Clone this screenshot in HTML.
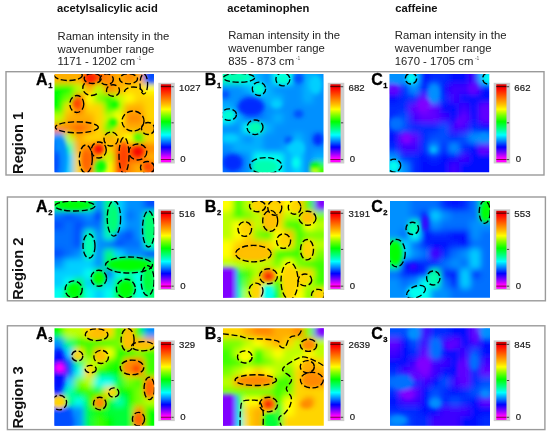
<!DOCTYPE html>
<html><head><meta charset="utf-8"><title>Raman maps</title>
<style>
html,body{margin:0;padding:0;background:#fff}
body{width:550px;height:435px;overflow:hidden}
svg{display:block}
text{font-family:"Liberation Sans",sans-serif;fill:#1a1a1a}
.t{font-size:11.2px;font-weight:bold;fill:#111}
.h{font-size:11.3px;fill:#222}
.u{font-size:5px;fill:#666}
.n{font-size:9.6px;letter-spacing:0.15px;fill:#1a1a1a;stroke:#1a1a1a;stroke-width:0.2px}
.l{font-size:16px;font-weight:bold;fill:#000;stroke:#000;stroke-width:0.3px}
.s{font-size:7.6px}
.r{font-size:15.2px;font-weight:bold;fill:#111}
</style></head><body>
<svg width="550" height="435" viewBox="0 0 550 435">
<defs><filter id="bl" x="-5%" y="-5%" width="110%" height="110%"><feGaussianBlur stdDeviation="0.33"/></filter><filter id="bs" x="-50%" y="-50%" width="200%" height="200%"><feGaussianBlur stdDeviation="0.2"/></filter><linearGradient id="cb" x1="0" y1="0" x2="0" y2="1"><stop offset="0.000" stop-color="#d00000"/><stop offset="0.050" stop-color="#ff0000"/><stop offset="0.120" stop-color="#ff4000"/><stop offset="0.190" stop-color="#ff8000"/><stop offset="0.260" stop-color="#ffc000"/><stop offset="0.320" stop-color="#ffff00"/><stop offset="0.395" stop-color="#80ff00"/><stop offset="0.480" stop-color="#00ff00"/><stop offset="0.570" stop-color="#00ff80"/><stop offset="0.650" stop-color="#00ffff"/><stop offset="0.730" stop-color="#0080ff"/><stop offset="0.805" stop-color="#0000ff"/><stop offset="0.880" stop-color="#8000ff"/><stop offset="0.950" stop-color="#ff00ff"/><stop offset="1.000" stop-color="#ff00ff"/></linearGradient></defs><rect x="6" y="71.7" width="538" height="103.3" fill="#fff" stroke="#9a9a9a" stroke-width="1.4"/><rect x="7.4" y="197" width="538" height="103.8" fill="#fff" stroke="#9a9a9a" stroke-width="1.4"/><rect x="7.4" y="325.8" width="537.5" height="103.8" fill="#fff" stroke="#9a9a9a" stroke-width="1.4"/><svg x="54.5" y="74" width="99.5" height="98.3" viewBox="0 0 10 10" preserveAspectRatio="none"><g filter="url(#bl)" shape-rendering="crispEdges"><rect x="-2" y="-2" width="1.02" height="1.02" fill="#ffae00"/><rect x="-1" y="-2" width="1.02" height="1.02" fill="#ffae00"/><rect x="0" y="-2" width="1.02" height="1.02" fill="#ffae00"/><rect x="1" y="-2" width="1.02" height="1.02" fill="#ffae00"/><rect x="2" y="-2" width="1.02" height="1.02" fill="#ffae00"/><rect x="3" y="-2" width="1.02" height="1.02" fill="#ff1b00"/><rect x="4" y="-2" width="1.02" height="1.02" fill="#ff6500"/><rect x="5" y="-2" width="1.02" height="1.02" fill="#ff8900"/><rect x="6" y="-2" width="1.02" height="1.02" fill="#ffae00"/><rect x="7" y="-2" width="1.02" height="1.02" fill="#ff8900"/><rect x="8" y="-2" width="1.02" height="1.02" fill="#ffae00"/><rect x="9" y="-2" width="1.02" height="1.02" fill="#004dff"/><rect x="10" y="-2" width="1.02" height="1.02" fill="#004dff"/><rect x="11" y="-2" width="1.02" height="1.02" fill="#004dff"/><rect x="-2" y="-1" width="1.02" height="1.02" fill="#ffae00"/><rect x="-1" y="-1" width="1.02" height="1.02" fill="#ffae00"/><rect x="0" y="-1" width="1.02" height="1.02" fill="#ffae00"/><rect x="1" y="-1" width="1.02" height="1.02" fill="#ffae00"/><rect x="2" y="-1" width="1.02" height="1.02" fill="#ffae00"/><rect x="3" y="-1" width="1.02" height="1.02" fill="#ff1b00"/><rect x="4" y="-1" width="1.02" height="1.02" fill="#ff6500"/><rect x="5" y="-1" width="1.02" height="1.02" fill="#ff8900"/><rect x="6" y="-1" width="1.02" height="1.02" fill="#ffae00"/><rect x="7" y="-1" width="1.02" height="1.02" fill="#ff8900"/><rect x="8" y="-1" width="1.02" height="1.02" fill="#ffae00"/><rect x="9" y="-1" width="1.02" height="1.02" fill="#004dff"/><rect x="10" y="-1" width="1.02" height="1.02" fill="#004dff"/><rect x="11" y="-1" width="1.02" height="1.02" fill="#004dff"/><rect x="-2" y="0" width="1.02" height="1.02" fill="#ffae00"/><rect x="-1" y="0" width="1.02" height="1.02" fill="#ffae00"/><rect x="0" y="0" width="1.02" height="1.02" fill="#ffae00"/><rect x="1" y="0" width="1.02" height="1.02" fill="#ffae00"/><rect x="2" y="0" width="1.02" height="1.02" fill="#ffae00"/><rect x="3" y="0" width="1.02" height="1.02" fill="#ff1b00"/><rect x="4" y="0" width="1.02" height="1.02" fill="#ff6500"/><rect x="5" y="0" width="1.02" height="1.02" fill="#ff8900"/><rect x="6" y="0" width="1.02" height="1.02" fill="#ffae00"/><rect x="7" y="0" width="1.02" height="1.02" fill="#ff8900"/><rect x="8" y="0" width="1.02" height="1.02" fill="#ffae00"/><rect x="9" y="0" width="1.02" height="1.02" fill="#004dff"/><rect x="10" y="0" width="1.02" height="1.02" fill="#004dff"/><rect x="11" y="0" width="1.02" height="1.02" fill="#004dff"/><rect x="-2" y="1" width="1.02" height="1.02" fill="#00ff00"/><rect x="-1" y="1" width="1.02" height="1.02" fill="#00ff00"/><rect x="0" y="1" width="1.02" height="1.02" fill="#00ff00"/><rect x="1" y="1" width="1.02" height="1.02" fill="#00ff00"/><rect x="2" y="1" width="1.02" height="1.02" fill="#bbff00"/><rect x="3" y="1" width="1.02" height="1.02" fill="#ffae00"/><rect x="4" y="1" width="1.02" height="1.02" fill="#bbff00"/><rect x="5" y="1" width="1.02" height="1.02" fill="#ff8900"/><rect x="6" y="1" width="1.02" height="1.02" fill="#ffae00"/><rect x="7" y="1" width="1.02" height="1.02" fill="#ffd500"/><rect x="8" y="1" width="1.02" height="1.02" fill="#ffd500"/><rect x="9" y="1" width="1.02" height="1.02" fill="#ffff00"/><rect x="10" y="1" width="1.02" height="1.02" fill="#ffff00"/><rect x="11" y="1" width="1.02" height="1.02" fill="#ffff00"/><rect x="-2" y="2" width="1.02" height="1.02" fill="#00ff00"/><rect x="-1" y="2" width="1.02" height="1.02" fill="#00ff00"/><rect x="0" y="2" width="1.02" height="1.02" fill="#00ff00"/><rect x="1" y="2" width="1.02" height="1.02" fill="#78ff00"/><rect x="2" y="2" width="1.02" height="1.02" fill="#ff4000"/><rect x="3" y="2" width="1.02" height="1.02" fill="#ffff00"/><rect x="4" y="2" width="1.02" height="1.02" fill="#78ff00"/><rect x="5" y="2" width="1.02" height="1.02" fill="#00ff00"/><rect x="6" y="2" width="1.02" height="1.02" fill="#bbff00"/><rect x="7" y="2" width="1.02" height="1.02" fill="#ffff00"/><rect x="8" y="2" width="1.02" height="1.02" fill="#ffd500"/><rect x="9" y="2" width="1.02" height="1.02" fill="#ffd500"/><rect x="10" y="2" width="1.02" height="1.02" fill="#ffd500"/><rect x="11" y="2" width="1.02" height="1.02" fill="#ffd500"/><rect x="-2" y="3" width="1.02" height="1.02" fill="#00ff00"/><rect x="-1" y="3" width="1.02" height="1.02" fill="#00ff00"/><rect x="0" y="3" width="1.02" height="1.02" fill="#00ff00"/><rect x="1" y="3" width="1.02" height="1.02" fill="#ffd500"/><rect x="2" y="3" width="1.02" height="1.02" fill="#ff6500"/><rect x="3" y="3" width="1.02" height="1.02" fill="#ffd500"/><rect x="4" y="3" width="1.02" height="1.02" fill="#ffd500"/><rect x="5" y="3" width="1.02" height="1.02" fill="#3cff00"/><rect x="6" y="3" width="1.02" height="1.02" fill="#bbff00"/><rect x="7" y="3" width="1.02" height="1.02" fill="#ffae00"/><rect x="8" y="3" width="1.02" height="1.02" fill="#ffae00"/><rect x="9" y="3" width="1.02" height="1.02" fill="#ffd500"/><rect x="10" y="3" width="1.02" height="1.02" fill="#ffd500"/><rect x="11" y="3" width="1.02" height="1.02" fill="#ffd500"/><rect x="-2" y="4" width="1.02" height="1.02" fill="#bbff00"/><rect x="-1" y="4" width="1.02" height="1.02" fill="#bbff00"/><rect x="0" y="4" width="1.02" height="1.02" fill="#bbff00"/><rect x="1" y="4" width="1.02" height="1.02" fill="#ffae00"/><rect x="2" y="4" width="1.02" height="1.02" fill="#ffae00"/><rect x="3" y="4" width="1.02" height="1.02" fill="#ffae00"/><rect x="4" y="4" width="1.02" height="1.02" fill="#ffd500"/><rect x="5" y="4" width="1.02" height="1.02" fill="#bbff00"/><rect x="6" y="4" width="1.02" height="1.02" fill="#ffff00"/><rect x="7" y="4" width="1.02" height="1.02" fill="#ff8900"/><rect x="8" y="4" width="1.02" height="1.02" fill="#ff8900"/><rect x="9" y="4" width="1.02" height="1.02" fill="#ffd500"/><rect x="10" y="4" width="1.02" height="1.02" fill="#ffd500"/><rect x="11" y="4" width="1.02" height="1.02" fill="#ffd500"/><rect x="-2" y="5" width="1.02" height="1.02" fill="#ff8900"/><rect x="-1" y="5" width="1.02" height="1.02" fill="#ff8900"/><rect x="0" y="5" width="1.02" height="1.02" fill="#ff8900"/><rect x="1" y="5" width="1.02" height="1.02" fill="#ff8900"/><rect x="2" y="5" width="1.02" height="1.02" fill="#ff6500"/><rect x="3" y="5" width="1.02" height="1.02" fill="#ff8900"/><rect x="4" y="5" width="1.02" height="1.02" fill="#ffd500"/><rect x="5" y="5" width="1.02" height="1.02" fill="#3cff00"/><rect x="6" y="5" width="1.02" height="1.02" fill="#ffd500"/><rect x="7" y="5" width="1.02" height="1.02" fill="#ffae00"/><rect x="8" y="5" width="1.02" height="1.02" fill="#ffae00"/><rect x="9" y="5" width="1.02" height="1.02" fill="#ffae00"/><rect x="10" y="5" width="1.02" height="1.02" fill="#ffae00"/><rect x="11" y="5" width="1.02" height="1.02" fill="#ffae00"/><rect x="-2" y="6" width="1.02" height="1.02" fill="#0090ff"/><rect x="-1" y="6" width="1.02" height="1.02" fill="#0090ff"/><rect x="0" y="6" width="1.02" height="1.02" fill="#0090ff"/><rect x="1" y="6" width="1.02" height="1.02" fill="#bbff00"/><rect x="2" y="6" width="1.02" height="1.02" fill="#ffae00"/><rect x="3" y="6" width="1.02" height="1.02" fill="#ffd500"/><rect x="4" y="6" width="1.02" height="1.02" fill="#ffd500"/><rect x="5" y="6" width="1.02" height="1.02" fill="#ffae00"/><rect x="6" y="6" width="1.02" height="1.02" fill="#ffd500"/><rect x="7" y="6" width="1.02" height="1.02" fill="#ffff00"/><rect x="8" y="6" width="1.02" height="1.02" fill="#3cff00"/><rect x="9" y="6" width="1.02" height="1.02" fill="#ffd500"/><rect x="10" y="6" width="1.02" height="1.02" fill="#ffd500"/><rect x="11" y="6" width="1.02" height="1.02" fill="#ffd500"/><rect x="-2" y="7" width="1.02" height="1.02" fill="#004dff"/><rect x="-1" y="7" width="1.02" height="1.02" fill="#004dff"/><rect x="0" y="7" width="1.02" height="1.02" fill="#004dff"/><rect x="1" y="7" width="1.02" height="1.02" fill="#00ffb0"/><rect x="2" y="7" width="1.02" height="1.02" fill="#ffae00"/><rect x="3" y="7" width="1.02" height="1.02" fill="#ff8900"/><rect x="4" y="7" width="1.02" height="1.02" fill="#ff1b00"/><rect x="5" y="7" width="1.02" height="1.02" fill="#ffd500"/><rect x="6" y="7" width="1.02" height="1.02" fill="#ff6500"/><rect x="7" y="7" width="1.02" height="1.02" fill="#ff6500"/><rect x="8" y="7" width="1.02" height="1.02" fill="#ff1b00"/><rect x="9" y="7" width="1.02" height="1.02" fill="#ff8900"/><rect x="10" y="7" width="1.02" height="1.02" fill="#ff8900"/><rect x="11" y="7" width="1.02" height="1.02" fill="#ff8900"/><rect x="-2" y="8" width="1.02" height="1.02" fill="#004dff"/><rect x="-1" y="8" width="1.02" height="1.02" fill="#004dff"/><rect x="0" y="8" width="1.02" height="1.02" fill="#004dff"/><rect x="1" y="8" width="1.02" height="1.02" fill="#00cfff"/><rect x="2" y="8" width="1.02" height="1.02" fill="#ffd500"/><rect x="3" y="8" width="1.02" height="1.02" fill="#ff6500"/><rect x="4" y="8" width="1.02" height="1.02" fill="#ffae00"/><rect x="5" y="8" width="1.02" height="1.02" fill="#bbff00"/><rect x="6" y="8" width="1.02" height="1.02" fill="#ff4000"/><rect x="7" y="8" width="1.02" height="1.02" fill="#ff6500"/><rect x="8" y="8" width="1.02" height="1.02" fill="#ff4000"/><rect x="9" y="8" width="1.02" height="1.02" fill="#ffae00"/><rect x="10" y="8" width="1.02" height="1.02" fill="#ffae00"/><rect x="11" y="8" width="1.02" height="1.02" fill="#ffae00"/><rect x="-2" y="9" width="1.02" height="1.02" fill="#004dff"/><rect x="-1" y="9" width="1.02" height="1.02" fill="#004dff"/><rect x="0" y="9" width="1.02" height="1.02" fill="#004dff"/><rect x="1" y="9" width="1.02" height="1.02" fill="#00cfff"/><rect x="2" y="9" width="1.02" height="1.02" fill="#ffd500"/><rect x="3" y="9" width="1.02" height="1.02" fill="#ff6500"/><rect x="4" y="9" width="1.02" height="1.02" fill="#00ff39"/><rect x="5" y="9" width="1.02" height="1.02" fill="#ffff00"/><rect x="6" y="9" width="1.02" height="1.02" fill="#ff4000"/><rect x="7" y="9" width="1.02" height="1.02" fill="#ff8900"/><rect x="8" y="9" width="1.02" height="1.02" fill="#ffae00"/><rect x="9" y="9" width="1.02" height="1.02" fill="#ff6500"/><rect x="10" y="9" width="1.02" height="1.02" fill="#ff6500"/><rect x="11" y="9" width="1.02" height="1.02" fill="#ff6500"/><rect x="-2" y="10" width="1.02" height="1.02" fill="#004dff"/><rect x="-1" y="10" width="1.02" height="1.02" fill="#004dff"/><rect x="0" y="10" width="1.02" height="1.02" fill="#004dff"/><rect x="1" y="10" width="1.02" height="1.02" fill="#00cfff"/><rect x="2" y="10" width="1.02" height="1.02" fill="#ffd500"/><rect x="3" y="10" width="1.02" height="1.02" fill="#ff6500"/><rect x="4" y="10" width="1.02" height="1.02" fill="#00ff39"/><rect x="5" y="10" width="1.02" height="1.02" fill="#ffff00"/><rect x="6" y="10" width="1.02" height="1.02" fill="#ff4000"/><rect x="7" y="10" width="1.02" height="1.02" fill="#ff8900"/><rect x="8" y="10" width="1.02" height="1.02" fill="#ffae00"/><rect x="9" y="10" width="1.02" height="1.02" fill="#ff6500"/><rect x="10" y="10" width="1.02" height="1.02" fill="#ff6500"/><rect x="11" y="10" width="1.02" height="1.02" fill="#ff6500"/><rect x="-2" y="11" width="1.02" height="1.02" fill="#004dff"/><rect x="-1" y="11" width="1.02" height="1.02" fill="#004dff"/><rect x="0" y="11" width="1.02" height="1.02" fill="#004dff"/><rect x="1" y="11" width="1.02" height="1.02" fill="#00cfff"/><rect x="2" y="11" width="1.02" height="1.02" fill="#ffd500"/><rect x="3" y="11" width="1.02" height="1.02" fill="#ff6500"/><rect x="4" y="11" width="1.02" height="1.02" fill="#00ff39"/><rect x="5" y="11" width="1.02" height="1.02" fill="#ffff00"/><rect x="6" y="11" width="1.02" height="1.02" fill="#ff4000"/><rect x="7" y="11" width="1.02" height="1.02" fill="#ff8900"/><rect x="8" y="11" width="1.02" height="1.02" fill="#ffae00"/><rect x="9" y="11" width="1.02" height="1.02" fill="#ff6500"/><rect x="10" y="11" width="1.02" height="1.02" fill="#ff6500"/><rect x="11" y="11" width="1.02" height="1.02" fill="#ff6500"/></g><g filter="url(#bs)"><ellipse cx="4.452" cy="7.660" rx="0.402" ry="0.407" fill="#f60000"/><ellipse cx="8.372" cy="7.904" rx="0.503" ry="0.407" fill="#f60000"/><ellipse cx="2.241" cy="3.021" rx="0.402" ry="0.458" fill="#ff4000"/><ellipse cx="3.638" cy="0.458" rx="0.603" ry="0.356" fill="#ff1b00"/><ellipse cx="9.357" cy="9.390" rx="0.402" ry="0.407" fill="#ff4000"/><ellipse cx="0.553" cy="8.342" rx="0.653" ry="1.933" fill="#0090ff"/><ellipse cx="0.251" cy="8.952" rx="0.302" ry="1.221" fill="#004dff"/><ellipse cx="3.146" cy="8.749" rx="0.452" ry="1.119" fill="#ff6500"/><ellipse cx="6.985" cy="8.342" rx="0.352" ry="1.526" fill="#ff4000"/><ellipse cx="9.749" cy="0.336" rx="0.352" ry="0.509" fill="#004dff"/><ellipse cx="5.879" cy="4.924" rx="0.402" ry="0.407" fill="#00ff00"/><ellipse cx="4.693" cy="9.390" rx="0.503" ry="0.610" fill="#00ff00"/><ellipse cx="8.372" cy="6.409" rx="0.302" ry="0.305" fill="#3cff00"/><ellipse cx="6.010" cy="3.103" rx="0.452" ry="0.407" fill="#00ff00"/></g></svg><svg x="54.5" y="74" width="99.5" height="98.3" viewBox="54.5 74 99.5 98.3"><g fill="none" stroke="#000" stroke-width="1.35" stroke-dasharray="6 2.6"><ellipse cx="68.3" cy="75.3" rx="14" ry="5.2"/><ellipse cx="92.7" cy="78.5" rx="8.5" ry="5"/><ellipse cx="106.6" cy="79.3" rx="6.7" ry="5.4"/><ellipse cx="128.5" cy="78.8" rx="9" ry="5"/><ellipse cx="143.8" cy="84" rx="3.8" ry="10"/><ellipse cx="113" cy="90.5" rx="6.5" ry="5.8"/><ellipse cx="76.8" cy="104" rx="7" ry="8.5"/><ellipse cx="76.8" cy="127.3" rx="21.5" ry="5.5"/><ellipse cx="133" cy="121" rx="11" ry="10"/><ellipse cx="148" cy="128.5" rx="6.5" ry="6"/><ellipse cx="111" cy="139" rx="7" ry="7"/><ellipse cx="98.8" cy="150" rx="7.5" ry="8"/><ellipse cx="85.8" cy="159" rx="6.5" ry="14"/><ellipse cx="124" cy="155.4" rx="5" ry="18"/><ellipse cx="137.8" cy="152" rx="9" ry="8"/><ellipse cx="147.5" cy="167.5" rx="7" ry="6"/><path d="M84.6 83.2A7.5 6.5 0 0 0 98.5 92.5"/><path d="M124.5 92A9 5 0 0 1 142.5 92"/></g></svg><svg x="222.7" y="74" width="100.8" height="98.3" viewBox="0 0 10 10" preserveAspectRatio="none"><g filter="url(#bl)" shape-rendering="crispEdges"><rect x="-2" y="-2" width="1.02" height="1.02" fill="#00ffb0"/><rect x="-1" y="-2" width="1.02" height="1.02" fill="#00ffb0"/><rect x="0" y="-2" width="1.02" height="1.02" fill="#00ffb0"/><rect x="1" y="-2" width="1.02" height="1.02" fill="#00ffb0"/><rect x="2" y="-2" width="1.02" height="1.02" fill="#00ffef"/><rect x="3" y="-2" width="1.02" height="1.02" fill="#00b0ff"/><rect x="4" y="-2" width="1.02" height="1.02" fill="#0090ff"/><rect x="5" y="-2" width="1.02" height="1.02" fill="#00ffef"/><rect x="6" y="-2" width="1.02" height="1.02" fill="#00ffef"/><rect x="7" y="-2" width="1.02" height="1.02" fill="#006fff"/><rect x="8" y="-2" width="1.02" height="1.02" fill="#00b0ff"/><rect x="9" y="-2" width="1.02" height="1.02" fill="#0090ff"/><rect x="10" y="-2" width="1.02" height="1.02" fill="#0090ff"/><rect x="11" y="-2" width="1.02" height="1.02" fill="#0090ff"/><rect x="-2" y="-1" width="1.02" height="1.02" fill="#00ffb0"/><rect x="-1" y="-1" width="1.02" height="1.02" fill="#00ffb0"/><rect x="0" y="-1" width="1.02" height="1.02" fill="#00ffb0"/><rect x="1" y="-1" width="1.02" height="1.02" fill="#00ffb0"/><rect x="2" y="-1" width="1.02" height="1.02" fill="#00ffef"/><rect x="3" y="-1" width="1.02" height="1.02" fill="#00b0ff"/><rect x="4" y="-1" width="1.02" height="1.02" fill="#0090ff"/><rect x="5" y="-1" width="1.02" height="1.02" fill="#00ffef"/><rect x="6" y="-1" width="1.02" height="1.02" fill="#00ffef"/><rect x="7" y="-1" width="1.02" height="1.02" fill="#006fff"/><rect x="8" y="-1" width="1.02" height="1.02" fill="#00b0ff"/><rect x="9" y="-1" width="1.02" height="1.02" fill="#0090ff"/><rect x="10" y="-1" width="1.02" height="1.02" fill="#0090ff"/><rect x="11" y="-1" width="1.02" height="1.02" fill="#0090ff"/><rect x="-2" y="0" width="1.02" height="1.02" fill="#00ffb0"/><rect x="-1" y="0" width="1.02" height="1.02" fill="#00ffb0"/><rect x="0" y="0" width="1.02" height="1.02" fill="#00ffb0"/><rect x="1" y="0" width="1.02" height="1.02" fill="#00ffb0"/><rect x="2" y="0" width="1.02" height="1.02" fill="#00ffef"/><rect x="3" y="0" width="1.02" height="1.02" fill="#00b0ff"/><rect x="4" y="0" width="1.02" height="1.02" fill="#0090ff"/><rect x="5" y="0" width="1.02" height="1.02" fill="#00ffef"/><rect x="6" y="0" width="1.02" height="1.02" fill="#00ffef"/><rect x="7" y="0" width="1.02" height="1.02" fill="#006fff"/><rect x="8" y="0" width="1.02" height="1.02" fill="#00b0ff"/><rect x="9" y="0" width="1.02" height="1.02" fill="#0090ff"/><rect x="10" y="0" width="1.02" height="1.02" fill="#0090ff"/><rect x="11" y="0" width="1.02" height="1.02" fill="#0090ff"/><rect x="-2" y="1" width="1.02" height="1.02" fill="#0090ff"/><rect x="-1" y="1" width="1.02" height="1.02" fill="#0090ff"/><rect x="0" y="1" width="1.02" height="1.02" fill="#0090ff"/><rect x="1" y="1" width="1.02" height="1.02" fill="#0090ff"/><rect x="2" y="1" width="1.02" height="1.02" fill="#00b0ff"/><rect x="3" y="1" width="1.02" height="1.02" fill="#00ffef"/><rect x="4" y="1" width="1.02" height="1.02" fill="#00b0ff"/><rect x="5" y="1" width="1.02" height="1.02" fill="#0090ff"/><rect x="6" y="1" width="1.02" height="1.02" fill="#0090ff"/><rect x="7" y="1" width="1.02" height="1.02" fill="#0090ff"/><rect x="8" y="1" width="1.02" height="1.02" fill="#00b0ff"/><rect x="9" y="1" width="1.02" height="1.02" fill="#0090ff"/><rect x="10" y="1" width="1.02" height="1.02" fill="#0090ff"/><rect x="11" y="1" width="1.02" height="1.02" fill="#0090ff"/><rect x="-2" y="2" width="1.02" height="1.02" fill="#0090ff"/><rect x="-1" y="2" width="1.02" height="1.02" fill="#0090ff"/><rect x="0" y="2" width="1.02" height="1.02" fill="#0090ff"/><rect x="1" y="2" width="1.02" height="1.02" fill="#0090ff"/><rect x="2" y="2" width="1.02" height="1.02" fill="#006fff"/><rect x="3" y="2" width="1.02" height="1.02" fill="#0090ff"/><rect x="4" y="2" width="1.02" height="1.02" fill="#00b0ff"/><rect x="5" y="2" width="1.02" height="1.02" fill="#00b0ff"/><rect x="6" y="2" width="1.02" height="1.02" fill="#0090ff"/><rect x="7" y="2" width="1.02" height="1.02" fill="#0090ff"/><rect x="8" y="2" width="1.02" height="1.02" fill="#00b0ff"/><rect x="9" y="2" width="1.02" height="1.02" fill="#0090ff"/><rect x="10" y="2" width="1.02" height="1.02" fill="#0090ff"/><rect x="11" y="2" width="1.02" height="1.02" fill="#0090ff"/><rect x="-2" y="3" width="1.02" height="1.02" fill="#00b0ff"/><rect x="-1" y="3" width="1.02" height="1.02" fill="#00b0ff"/><rect x="0" y="3" width="1.02" height="1.02" fill="#00b0ff"/><rect x="1" y="3" width="1.02" height="1.02" fill="#0090ff"/><rect x="2" y="3" width="1.02" height="1.02" fill="#006fff"/><rect x="3" y="3" width="1.02" height="1.02" fill="#006fff"/><rect x="4" y="3" width="1.02" height="1.02" fill="#0090ff"/><rect x="5" y="3" width="1.02" height="1.02" fill="#0090ff"/><rect x="6" y="3" width="1.02" height="1.02" fill="#0090ff"/><rect x="7" y="3" width="1.02" height="1.02" fill="#0090ff"/><rect x="8" y="3" width="1.02" height="1.02" fill="#0090ff"/><rect x="9" y="3" width="1.02" height="1.02" fill="#0090ff"/><rect x="10" y="3" width="1.02" height="1.02" fill="#0090ff"/><rect x="11" y="3" width="1.02" height="1.02" fill="#0090ff"/><rect x="-2" y="4" width="1.02" height="1.02" fill="#00ffef"/><rect x="-1" y="4" width="1.02" height="1.02" fill="#00ffef"/><rect x="0" y="4" width="1.02" height="1.02" fill="#00ffef"/><rect x="1" y="4" width="1.02" height="1.02" fill="#00b0ff"/><rect x="2" y="4" width="1.02" height="1.02" fill="#006fff"/><rect x="3" y="4" width="1.02" height="1.02" fill="#006fff"/><rect x="4" y="4" width="1.02" height="1.02" fill="#0090ff"/><rect x="5" y="4" width="1.02" height="1.02" fill="#00b0ff"/><rect x="6" y="4" width="1.02" height="1.02" fill="#0090ff"/><rect x="7" y="4" width="1.02" height="1.02" fill="#0090ff"/><rect x="8" y="4" width="1.02" height="1.02" fill="#0090ff"/><rect x="9" y="4" width="1.02" height="1.02" fill="#0090ff"/><rect x="10" y="4" width="1.02" height="1.02" fill="#0090ff"/><rect x="11" y="4" width="1.02" height="1.02" fill="#0090ff"/><rect x="-2" y="5" width="1.02" height="1.02" fill="#0090ff"/><rect x="-1" y="5" width="1.02" height="1.02" fill="#0090ff"/><rect x="0" y="5" width="1.02" height="1.02" fill="#0090ff"/><rect x="1" y="5" width="1.02" height="1.02" fill="#0090ff"/><rect x="2" y="5" width="1.02" height="1.02" fill="#00ffef"/><rect x="3" y="5" width="1.02" height="1.02" fill="#00ffb0"/><rect x="4" y="5" width="1.02" height="1.02" fill="#00b0ff"/><rect x="5" y="5" width="1.02" height="1.02" fill="#0090ff"/><rect x="6" y="5" width="1.02" height="1.02" fill="#0090ff"/><rect x="7" y="5" width="1.02" height="1.02" fill="#0090ff"/><rect x="8" y="5" width="1.02" height="1.02" fill="#0090ff"/><rect x="9" y="5" width="1.02" height="1.02" fill="#0090ff"/><rect x="10" y="5" width="1.02" height="1.02" fill="#0090ff"/><rect x="11" y="5" width="1.02" height="1.02" fill="#0090ff"/><rect x="-2" y="6" width="1.02" height="1.02" fill="#00b0ff"/><rect x="-1" y="6" width="1.02" height="1.02" fill="#00b0ff"/><rect x="0" y="6" width="1.02" height="1.02" fill="#00b0ff"/><rect x="1" y="6" width="1.02" height="1.02" fill="#00b0ff"/><rect x="2" y="6" width="1.02" height="1.02" fill="#0090ff"/><rect x="3" y="6" width="1.02" height="1.02" fill="#00b0ff"/><rect x="4" y="6" width="1.02" height="1.02" fill="#0090ff"/><rect x="5" y="6" width="1.02" height="1.02" fill="#0090ff"/><rect x="6" y="6" width="1.02" height="1.02" fill="#0090ff"/><rect x="7" y="6" width="1.02" height="1.02" fill="#00b0ff"/><rect x="8" y="6" width="1.02" height="1.02" fill="#0090ff"/><rect x="9" y="6" width="1.02" height="1.02" fill="#006fff"/><rect x="10" y="6" width="1.02" height="1.02" fill="#006fff"/><rect x="11" y="6" width="1.02" height="1.02" fill="#006fff"/><rect x="-2" y="7" width="1.02" height="1.02" fill="#0090ff"/><rect x="-1" y="7" width="1.02" height="1.02" fill="#0090ff"/><rect x="0" y="7" width="1.02" height="1.02" fill="#0090ff"/><rect x="1" y="7" width="1.02" height="1.02" fill="#00b0ff"/><rect x="2" y="7" width="1.02" height="1.02" fill="#00b0ff"/><rect x="3" y="7" width="1.02" height="1.02" fill="#00b0ff"/><rect x="4" y="7" width="1.02" height="1.02" fill="#0090ff"/><rect x="5" y="7" width="1.02" height="1.02" fill="#0090ff"/><rect x="6" y="7" width="1.02" height="1.02" fill="#00b0ff"/><rect x="7" y="7" width="1.02" height="1.02" fill="#00cfff"/><rect x="8" y="7" width="1.02" height="1.02" fill="#0090ff"/><rect x="9" y="7" width="1.02" height="1.02" fill="#0090ff"/><rect x="10" y="7" width="1.02" height="1.02" fill="#0090ff"/><rect x="11" y="7" width="1.02" height="1.02" fill="#0090ff"/><rect x="-2" y="8" width="1.02" height="1.02" fill="#006fff"/><rect x="-1" y="8" width="1.02" height="1.02" fill="#006fff"/><rect x="0" y="8" width="1.02" height="1.02" fill="#006fff"/><rect x="1" y="8" width="1.02" height="1.02" fill="#006fff"/><rect x="2" y="8" width="1.02" height="1.02" fill="#0090ff"/><rect x="3" y="8" width="1.02" height="1.02" fill="#00ffef"/><rect x="4" y="8" width="1.02" height="1.02" fill="#00ffef"/><rect x="5" y="8" width="1.02" height="1.02" fill="#00ffef"/><rect x="6" y="8" width="1.02" height="1.02" fill="#00b0ff"/><rect x="7" y="8" width="1.02" height="1.02" fill="#00cfff"/><rect x="8" y="8" width="1.02" height="1.02" fill="#0090ff"/><rect x="9" y="8" width="1.02" height="1.02" fill="#00b0ff"/><rect x="10" y="8" width="1.02" height="1.02" fill="#00b0ff"/><rect x="11" y="8" width="1.02" height="1.02" fill="#00b0ff"/><rect x="-2" y="9" width="1.02" height="1.02" fill="#006fff"/><rect x="-1" y="9" width="1.02" height="1.02" fill="#006fff"/><rect x="0" y="9" width="1.02" height="1.02" fill="#006fff"/><rect x="1" y="9" width="1.02" height="1.02" fill="#006fff"/><rect x="2" y="9" width="1.02" height="1.02" fill="#0090ff"/><rect x="3" y="9" width="1.02" height="1.02" fill="#00ffb0"/><rect x="4" y="9" width="1.02" height="1.02" fill="#00ffb0"/><rect x="5" y="9" width="1.02" height="1.02" fill="#00ffef"/><rect x="6" y="9" width="1.02" height="1.02" fill="#00b0ff"/><rect x="7" y="9" width="1.02" height="1.02" fill="#00cfff"/><rect x="8" y="9" width="1.02" height="1.02" fill="#0090ff"/><rect x="9" y="9" width="1.02" height="1.02" fill="#3cff00"/><rect x="10" y="9" width="1.02" height="1.02" fill="#3cff00"/><rect x="11" y="9" width="1.02" height="1.02" fill="#3cff00"/><rect x="-2" y="10" width="1.02" height="1.02" fill="#006fff"/><rect x="-1" y="10" width="1.02" height="1.02" fill="#006fff"/><rect x="0" y="10" width="1.02" height="1.02" fill="#006fff"/><rect x="1" y="10" width="1.02" height="1.02" fill="#006fff"/><rect x="2" y="10" width="1.02" height="1.02" fill="#0090ff"/><rect x="3" y="10" width="1.02" height="1.02" fill="#00ffb0"/><rect x="4" y="10" width="1.02" height="1.02" fill="#00ffb0"/><rect x="5" y="10" width="1.02" height="1.02" fill="#00ffef"/><rect x="6" y="10" width="1.02" height="1.02" fill="#00b0ff"/><rect x="7" y="10" width="1.02" height="1.02" fill="#00cfff"/><rect x="8" y="10" width="1.02" height="1.02" fill="#0090ff"/><rect x="9" y="10" width="1.02" height="1.02" fill="#3cff00"/><rect x="10" y="10" width="1.02" height="1.02" fill="#3cff00"/><rect x="11" y="10" width="1.02" height="1.02" fill="#3cff00"/><rect x="-2" y="11" width="1.02" height="1.02" fill="#006fff"/><rect x="-1" y="11" width="1.02" height="1.02" fill="#006fff"/><rect x="0" y="11" width="1.02" height="1.02" fill="#006fff"/><rect x="1" y="11" width="1.02" height="1.02" fill="#006fff"/><rect x="2" y="11" width="1.02" height="1.02" fill="#0090ff"/><rect x="3" y="11" width="1.02" height="1.02" fill="#00ffb0"/><rect x="4" y="11" width="1.02" height="1.02" fill="#00ffb0"/><rect x="5" y="11" width="1.02" height="1.02" fill="#00ffef"/><rect x="6" y="11" width="1.02" height="1.02" fill="#00b0ff"/><rect x="7" y="11" width="1.02" height="1.02" fill="#00cfff"/><rect x="8" y="11" width="1.02" height="1.02" fill="#0090ff"/><rect x="9" y="11" width="1.02" height="1.02" fill="#3cff00"/><rect x="10" y="11" width="1.02" height="1.02" fill="#3cff00"/><rect x="11" y="11" width="1.02" height="1.02" fill="#3cff00"/></g><g filter="url(#bs)"><ellipse cx="2.798" cy="3.316" rx="1.290" ry="0.916" fill="#002bff"/><ellipse cx="0.982" cy="9.023" rx="0.992" ry="0.865" fill="#002bff"/><ellipse cx="9.454" cy="6.663" rx="0.496" ry="0.610" fill="#002bff"/><ellipse cx="7.520" cy="0.458" rx="0.446" ry="0.458" fill="#004dff"/><ellipse cx="7.520" cy="4.059" rx="0.496" ry="0.407" fill="#004dff"/><ellipse cx="0.258" cy="2.075" rx="0.397" ry="0.407" fill="#004dff"/><ellipse cx="6.548" cy="6.785" rx="0.397" ry="0.407" fill="#004dff"/><ellipse cx="9.216" cy="1.078" rx="0.694" ry="1.017" fill="#00cfff"/><ellipse cx="5.337" cy="3.052" rx="0.595" ry="0.509" fill="#00cfff"/><ellipse cx="0.724" cy="6.541" rx="0.843" ry="0.407" fill="#00cfff"/><ellipse cx="7.272" cy="7.528" rx="0.843" ry="0.712" fill="#00cfff"/><ellipse cx="7.272" cy="9.023" rx="0.397" ry="0.610" fill="#00ffef"/><ellipse cx="3.601" cy="1.506" rx="0.496" ry="0.509" fill="#00ffcf"/><ellipse cx="5.972" cy="0.539" rx="0.546" ry="0.509" fill="#00ffcf"/><ellipse cx="0.625" cy="4.130" rx="0.546" ry="0.458" fill="#00ffcf"/><ellipse cx="3.204" cy="5.422" rx="0.595" ry="0.560" fill="#00ffb0"/><ellipse cx="4.276" cy="9.410" rx="1.290" ry="0.610" fill="#00ffb0"/><ellipse cx="1.617" cy="0.305" rx="1.290" ry="0.356" fill="#00ffb0"/><rect x="8.710" y="9.054" width="0.843" height="0.966" fill="#00ff00"/><rect x="8.710" y="9.766" width="0.843" height="0.305" fill="#ffff00"/></g></svg><svg x="222.7" y="74" width="100.8" height="98.3" viewBox="222.7 74 100.8 98.3"><g fill="none" stroke="#000" stroke-width="1.35" stroke-dasharray="6 2.6"><ellipse cx="239" cy="77.8" rx="15.6" ry="4.5"/><ellipse cx="259" cy="88.8" rx="6.7" ry="6.7"/><ellipse cx="282.9" cy="79.3" rx="7" ry="6.5"/><ellipse cx="229" cy="114.6" rx="7.5" ry="5.7"/><ellipse cx="255" cy="127.3" rx="8" ry="7.3"/><ellipse cx="265.8" cy="165.6" rx="16" ry="8"/></g></svg><svg x="389.5" y="74" width="99.7" height="98.3" viewBox="0 0 10 10" preserveAspectRatio="none"><g filter="url(#bl)" shape-rendering="crispEdges"><rect x="-2" y="-2" width="1.02" height="1.02" fill="#0090ff"/><rect x="-1" y="-2" width="1.02" height="1.02" fill="#0090ff"/><rect x="0" y="-2" width="1.02" height="1.02" fill="#0090ff"/><rect x="1" y="-2" width="1.02" height="1.02" fill="#0090ff"/><rect x="2" y="-2" width="1.02" height="1.02" fill="#00cfff"/><rect x="3" y="-2" width="1.02" height="1.02" fill="#0009ff"/><rect x="4" y="-2" width="1.02" height="1.02" fill="#002bff"/><rect x="5" y="-2" width="1.02" height="1.02" fill="#002bff"/><rect x="6" y="-2" width="1.02" height="1.02" fill="#0009ff"/><rect x="7" y="-2" width="1.02" height="1.02" fill="#0009ff"/><rect x="8" y="-2" width="1.02" height="1.02" fill="#3c00ff"/><rect x="9" y="-2" width="1.02" height="1.02" fill="#00cfff"/><rect x="10" y="-2" width="1.02" height="1.02" fill="#00cfff"/><rect x="11" y="-2" width="1.02" height="1.02" fill="#00cfff"/><rect x="-2" y="-1" width="1.02" height="1.02" fill="#0090ff"/><rect x="-1" y="-1" width="1.02" height="1.02" fill="#0090ff"/><rect x="0" y="-1" width="1.02" height="1.02" fill="#0090ff"/><rect x="1" y="-1" width="1.02" height="1.02" fill="#0090ff"/><rect x="2" y="-1" width="1.02" height="1.02" fill="#00cfff"/><rect x="3" y="-1" width="1.02" height="1.02" fill="#0009ff"/><rect x="4" y="-1" width="1.02" height="1.02" fill="#002bff"/><rect x="5" y="-1" width="1.02" height="1.02" fill="#002bff"/><rect x="6" y="-1" width="1.02" height="1.02" fill="#0009ff"/><rect x="7" y="-1" width="1.02" height="1.02" fill="#0009ff"/><rect x="8" y="-1" width="1.02" height="1.02" fill="#3c00ff"/><rect x="9" y="-1" width="1.02" height="1.02" fill="#00cfff"/><rect x="10" y="-1" width="1.02" height="1.02" fill="#00cfff"/><rect x="11" y="-1" width="1.02" height="1.02" fill="#00cfff"/><rect x="-2" y="0" width="1.02" height="1.02" fill="#0090ff"/><rect x="-1" y="0" width="1.02" height="1.02" fill="#0090ff"/><rect x="0" y="0" width="1.02" height="1.02" fill="#0090ff"/><rect x="1" y="0" width="1.02" height="1.02" fill="#0090ff"/><rect x="2" y="0" width="1.02" height="1.02" fill="#00cfff"/><rect x="3" y="0" width="1.02" height="1.02" fill="#0009ff"/><rect x="4" y="0" width="1.02" height="1.02" fill="#002bff"/><rect x="5" y="0" width="1.02" height="1.02" fill="#002bff"/><rect x="6" y="0" width="1.02" height="1.02" fill="#0009ff"/><rect x="7" y="0" width="1.02" height="1.02" fill="#0009ff"/><rect x="8" y="0" width="1.02" height="1.02" fill="#3c00ff"/><rect x="9" y="0" width="1.02" height="1.02" fill="#00cfff"/><rect x="10" y="0" width="1.02" height="1.02" fill="#00cfff"/><rect x="11" y="0" width="1.02" height="1.02" fill="#00cfff"/><rect x="-2" y="1" width="1.02" height="1.02" fill="#5e00ff"/><rect x="-1" y="1" width="1.02" height="1.02" fill="#5e00ff"/><rect x="0" y="1" width="1.02" height="1.02" fill="#5e00ff"/><rect x="1" y="1" width="1.02" height="1.02" fill="#002bff"/><rect x="2" y="1" width="1.02" height="1.02" fill="#0090ff"/><rect x="3" y="1" width="1.02" height="1.02" fill="#0009ff"/><rect x="4" y="1" width="1.02" height="1.02" fill="#0090ff"/><rect x="5" y="1" width="1.02" height="1.02" fill="#0009ff"/><rect x="6" y="1" width="1.02" height="1.02" fill="#3c00ff"/><rect x="7" y="1" width="1.02" height="1.02" fill="#3c00ff"/><rect x="8" y="1" width="1.02" height="1.02" fill="#5e00ff"/><rect x="9" y="1" width="1.02" height="1.02" fill="#0009ff"/><rect x="10" y="1" width="1.02" height="1.02" fill="#0009ff"/><rect x="11" y="1" width="1.02" height="1.02" fill="#0009ff"/><rect x="-2" y="2" width="1.02" height="1.02" fill="#0009ff"/><rect x="-1" y="2" width="1.02" height="1.02" fill="#0009ff"/><rect x="0" y="2" width="1.02" height="1.02" fill="#0009ff"/><rect x="1" y="2" width="1.02" height="1.02" fill="#002bff"/><rect x="2" y="2" width="1.02" height="1.02" fill="#002bff"/><rect x="3" y="2" width="1.02" height="1.02" fill="#5e00ff"/><rect x="4" y="2" width="1.02" height="1.02" fill="#0090ff"/><rect x="5" y="2" width="1.02" height="1.02" fill="#002bff"/><rect x="6" y="2" width="1.02" height="1.02" fill="#3c00ff"/><rect x="7" y="2" width="1.02" height="1.02" fill="#0009ff"/><rect x="8" y="2" width="1.02" height="1.02" fill="#0009ff"/><rect x="9" y="2" width="1.02" height="1.02" fill="#0009ff"/><rect x="10" y="2" width="1.02" height="1.02" fill="#0009ff"/><rect x="11" y="2" width="1.02" height="1.02" fill="#0009ff"/><rect x="-2" y="3" width="1.02" height="1.02" fill="#002bff"/><rect x="-1" y="3" width="1.02" height="1.02" fill="#002bff"/><rect x="0" y="3" width="1.02" height="1.02" fill="#002bff"/><rect x="1" y="3" width="1.02" height="1.02" fill="#002bff"/><rect x="2" y="3" width="1.02" height="1.02" fill="#5e00ff"/><rect x="3" y="3" width="1.02" height="1.02" fill="#8000ff"/><rect x="4" y="3" width="1.02" height="1.02" fill="#5e00ff"/><rect x="5" y="3" width="1.02" height="1.02" fill="#0009ff"/><rect x="6" y="3" width="1.02" height="1.02" fill="#0009ff"/><rect x="7" y="3" width="1.02" height="1.02" fill="#3c00ff"/><rect x="8" y="3" width="1.02" height="1.02" fill="#0009ff"/><rect x="9" y="3" width="1.02" height="1.02" fill="#5e00ff"/><rect x="10" y="3" width="1.02" height="1.02" fill="#5e00ff"/><rect x="11" y="3" width="1.02" height="1.02" fill="#5e00ff"/><rect x="-2" y="4" width="1.02" height="1.02" fill="#002bff"/><rect x="-1" y="4" width="1.02" height="1.02" fill="#002bff"/><rect x="0" y="4" width="1.02" height="1.02" fill="#002bff"/><rect x="1" y="4" width="1.02" height="1.02" fill="#004dff"/><rect x="2" y="4" width="1.02" height="1.02" fill="#3c00ff"/><rect x="3" y="4" width="1.02" height="1.02" fill="#5e00ff"/><rect x="4" y="4" width="1.02" height="1.02" fill="#5e00ff"/><rect x="5" y="4" width="1.02" height="1.02" fill="#3c00ff"/><rect x="6" y="4" width="1.02" height="1.02" fill="#0009ff"/><rect x="7" y="4" width="1.02" height="1.02" fill="#5e00ff"/><rect x="8" y="4" width="1.02" height="1.02" fill="#0009ff"/><rect x="9" y="4" width="1.02" height="1.02" fill="#5e00ff"/><rect x="10" y="4" width="1.02" height="1.02" fill="#5e00ff"/><rect x="11" y="4" width="1.02" height="1.02" fill="#5e00ff"/><rect x="-2" y="5" width="1.02" height="1.02" fill="#002bff"/><rect x="-1" y="5" width="1.02" height="1.02" fill="#002bff"/><rect x="0" y="5" width="1.02" height="1.02" fill="#002bff"/><rect x="1" y="5" width="1.02" height="1.02" fill="#004dff"/><rect x="2" y="5" width="1.02" height="1.02" fill="#002bff"/><rect x="3" y="5" width="1.02" height="1.02" fill="#002bff"/><rect x="4" y="5" width="1.02" height="1.02" fill="#002bff"/><rect x="5" y="5" width="1.02" height="1.02" fill="#004dff"/><rect x="6" y="5" width="1.02" height="1.02" fill="#3c00ff"/><rect x="7" y="5" width="1.02" height="1.02" fill="#3c00ff"/><rect x="8" y="5" width="1.02" height="1.02" fill="#002bff"/><rect x="9" y="5" width="1.02" height="1.02" fill="#0009ff"/><rect x="10" y="5" width="1.02" height="1.02" fill="#0009ff"/><rect x="11" y="5" width="1.02" height="1.02" fill="#0009ff"/><rect x="-2" y="6" width="1.02" height="1.02" fill="#0009ff"/><rect x="-1" y="6" width="1.02" height="1.02" fill="#0009ff"/><rect x="0" y="6" width="1.02" height="1.02" fill="#0009ff"/><rect x="1" y="6" width="1.02" height="1.02" fill="#5e00ff"/><rect x="2" y="6" width="1.02" height="1.02" fill="#5e00ff"/><rect x="3" y="6" width="1.02" height="1.02" fill="#002bff"/><rect x="4" y="6" width="1.02" height="1.02" fill="#004dff"/><rect x="5" y="6" width="1.02" height="1.02" fill="#004dff"/><rect x="6" y="6" width="1.02" height="1.02" fill="#002bff"/><rect x="7" y="6" width="1.02" height="1.02" fill="#004dff"/><rect x="8" y="6" width="1.02" height="1.02" fill="#0090ff"/><rect x="9" y="6" width="1.02" height="1.02" fill="#0090ff"/><rect x="10" y="6" width="1.02" height="1.02" fill="#0090ff"/><rect x="11" y="6" width="1.02" height="1.02" fill="#0090ff"/><rect x="-2" y="7" width="1.02" height="1.02" fill="#002bff"/><rect x="-1" y="7" width="1.02" height="1.02" fill="#002bff"/><rect x="0" y="7" width="1.02" height="1.02" fill="#002bff"/><rect x="1" y="7" width="1.02" height="1.02" fill="#3c00ff"/><rect x="2" y="7" width="1.02" height="1.02" fill="#3c00ff"/><rect x="3" y="7" width="1.02" height="1.02" fill="#002bff"/><rect x="4" y="7" width="1.02" height="1.02" fill="#0090ff"/><rect x="5" y="7" width="1.02" height="1.02" fill="#002bff"/><rect x="6" y="7" width="1.02" height="1.02" fill="#0090ff"/><rect x="7" y="7" width="1.02" height="1.02" fill="#002bff"/><rect x="8" y="7" width="1.02" height="1.02" fill="#0009ff"/><rect x="9" y="7" width="1.02" height="1.02" fill="#5e00ff"/><rect x="10" y="7" width="1.02" height="1.02" fill="#5e00ff"/><rect x="11" y="7" width="1.02" height="1.02" fill="#5e00ff"/><rect x="-2" y="8" width="1.02" height="1.02" fill="#0090ff"/><rect x="-1" y="8" width="1.02" height="1.02" fill="#0090ff"/><rect x="0" y="8" width="1.02" height="1.02" fill="#0090ff"/><rect x="1" y="8" width="1.02" height="1.02" fill="#002bff"/><rect x="2" y="8" width="1.02" height="1.02" fill="#002bff"/><rect x="3" y="8" width="1.02" height="1.02" fill="#0009ff"/><rect x="4" y="8" width="1.02" height="1.02" fill="#002bff"/><rect x="5" y="8" width="1.02" height="1.02" fill="#0009ff"/><rect x="6" y="8" width="1.02" height="1.02" fill="#0009ff"/><rect x="7" y="8" width="1.02" height="1.02" fill="#3c00ff"/><rect x="8" y="8" width="1.02" height="1.02" fill="#0009ff"/><rect x="9" y="8" width="1.02" height="1.02" fill="#0009ff"/><rect x="10" y="8" width="1.02" height="1.02" fill="#0009ff"/><rect x="11" y="8" width="1.02" height="1.02" fill="#0009ff"/><rect x="-2" y="9" width="1.02" height="1.02" fill="#00cfff"/><rect x="-1" y="9" width="1.02" height="1.02" fill="#00cfff"/><rect x="0" y="9" width="1.02" height="1.02" fill="#00cfff"/><rect x="1" y="9" width="1.02" height="1.02" fill="#0090ff"/><rect x="2" y="9" width="1.02" height="1.02" fill="#002bff"/><rect x="3" y="9" width="1.02" height="1.02" fill="#0009ff"/><rect x="4" y="9" width="1.02" height="1.02" fill="#0009ff"/><rect x="5" y="9" width="1.02" height="1.02" fill="#0009ff"/><rect x="6" y="9" width="1.02" height="1.02" fill="#3c00ff"/><rect x="7" y="9" width="1.02" height="1.02" fill="#0009ff"/><rect x="8" y="9" width="1.02" height="1.02" fill="#0009ff"/><rect x="9" y="9" width="1.02" height="1.02" fill="#0009ff"/><rect x="10" y="9" width="1.02" height="1.02" fill="#0009ff"/><rect x="11" y="9" width="1.02" height="1.02" fill="#0009ff"/><rect x="-2" y="10" width="1.02" height="1.02" fill="#00cfff"/><rect x="-1" y="10" width="1.02" height="1.02" fill="#00cfff"/><rect x="0" y="10" width="1.02" height="1.02" fill="#00cfff"/><rect x="1" y="10" width="1.02" height="1.02" fill="#0090ff"/><rect x="2" y="10" width="1.02" height="1.02" fill="#002bff"/><rect x="3" y="10" width="1.02" height="1.02" fill="#0009ff"/><rect x="4" y="10" width="1.02" height="1.02" fill="#0009ff"/><rect x="5" y="10" width="1.02" height="1.02" fill="#0009ff"/><rect x="6" y="10" width="1.02" height="1.02" fill="#3c00ff"/><rect x="7" y="10" width="1.02" height="1.02" fill="#0009ff"/><rect x="8" y="10" width="1.02" height="1.02" fill="#0009ff"/><rect x="9" y="10" width="1.02" height="1.02" fill="#0009ff"/><rect x="10" y="10" width="1.02" height="1.02" fill="#0009ff"/><rect x="11" y="10" width="1.02" height="1.02" fill="#0009ff"/><rect x="-2" y="11" width="1.02" height="1.02" fill="#00cfff"/><rect x="-1" y="11" width="1.02" height="1.02" fill="#00cfff"/><rect x="0" y="11" width="1.02" height="1.02" fill="#00cfff"/><rect x="1" y="11" width="1.02" height="1.02" fill="#0090ff"/><rect x="2" y="11" width="1.02" height="1.02" fill="#002bff"/><rect x="3" y="11" width="1.02" height="1.02" fill="#0009ff"/><rect x="4" y="11" width="1.02" height="1.02" fill="#0009ff"/><rect x="5" y="11" width="1.02" height="1.02" fill="#0009ff"/><rect x="6" y="11" width="1.02" height="1.02" fill="#3c00ff"/><rect x="7" y="11" width="1.02" height="1.02" fill="#0009ff"/><rect x="8" y="11" width="1.02" height="1.02" fill="#0009ff"/><rect x="9" y="11" width="1.02" height="1.02" fill="#0009ff"/><rect x="10" y="11" width="1.02" height="1.02" fill="#0009ff"/><rect x="11" y="11" width="1.02" height="1.02" fill="#0009ff"/></g><g filter="url(#bs)"><ellipse cx="8.375" cy="1.455" rx="0.401" ry="0.509" fill="#5e00ff"/><ellipse cx="7.031" cy="4.924" rx="0.401" ry="0.509" fill="#5e00ff"/><ellipse cx="9.599" cy="3.937" rx="0.301" ry="0.610" fill="#5e00ff"/><ellipse cx="0.431" cy="1.577" rx="0.401" ry="0.407" fill="#5e00ff"/><ellipse cx="9.358" cy="7.904" rx="0.401" ry="0.305" fill="#5e00ff"/><ellipse cx="4.463" cy="1.953" rx="0.451" ry="0.814" fill="#0090ff"/><ellipse cx="0.913" cy="0.458" rx="0.802" ry="0.407" fill="#0090ff"/><ellipse cx="0.672" cy="5.056" rx="0.802" ry="0.712" fill="#006fff"/><ellipse cx="9.478" cy="6.409" rx="0.451" ry="0.407" fill="#0090ff"/><ellipse cx="2.156" cy="0.458" rx="0.451" ry="0.458" fill="#00ffef"/><ellipse cx="9.880" cy="0.458" rx="0.401" ry="0.458" fill="#00ffef"/><ellipse cx="0.451" cy="9.359" rx="0.552" ry="0.560" fill="#00ffef"/><ellipse cx="3.390" cy="3.103" rx="0.602" ry="0.509" fill="#8000ff"/><ellipse cx="1.715" cy="6.572" rx="0.502" ry="0.509" fill="#8000ff"/><ellipse cx="4.413" cy="7.711" rx="0.301" ry="0.305" fill="#00cfff"/></g></svg><svg x="389.5" y="74" width="99.7" height="98.3" viewBox="389.5 74 99.7 98.3"><g fill="none" stroke="#000" stroke-width="1.35" stroke-dasharray="6 2.6"><ellipse cx="411" cy="78.5" rx="5.7" ry="5.5"/><ellipse cx="487.7" cy="78.5" rx="5" ry="5.5"/><ellipse cx="394.2" cy="165.6" rx="6.5" ry="6.5"/></g></svg><svg x="54.5" y="201" width="99.7" height="96.7" viewBox="0 0 10 10" preserveAspectRatio="none"><g filter="url(#bl)" shape-rendering="crispEdges"><rect x="-2" y="-2" width="1.02" height="1.02" fill="#00ff39"/><rect x="-1" y="-2" width="1.02" height="1.02" fill="#00ff39"/><rect x="0" y="-2" width="1.02" height="1.02" fill="#00ff39"/><rect x="1" y="-2" width="1.02" height="1.02" fill="#00ff39"/><rect x="2" y="-2" width="1.02" height="1.02" fill="#00ff39"/><rect x="3" y="-2" width="1.02" height="1.02" fill="#00ff72"/><rect x="4" y="-2" width="1.02" height="1.02" fill="#0090ff"/><rect x="5" y="-2" width="1.02" height="1.02" fill="#00ff72"/><rect x="6" y="-2" width="1.02" height="1.02" fill="#00cfff"/><rect x="7" y="-2" width="1.02" height="1.02" fill="#0090ff"/><rect x="8" y="-2" width="1.02" height="1.02" fill="#0090ff"/><rect x="9" y="-2" width="1.02" height="1.02" fill="#004dff"/><rect x="10" y="-2" width="1.02" height="1.02" fill="#004dff"/><rect x="11" y="-2" width="1.02" height="1.02" fill="#004dff"/><rect x="-2" y="-1" width="1.02" height="1.02" fill="#00ff39"/><rect x="-1" y="-1" width="1.02" height="1.02" fill="#00ff39"/><rect x="0" y="-1" width="1.02" height="1.02" fill="#00ff39"/><rect x="1" y="-1" width="1.02" height="1.02" fill="#00ff39"/><rect x="2" y="-1" width="1.02" height="1.02" fill="#00ff39"/><rect x="3" y="-1" width="1.02" height="1.02" fill="#00ff72"/><rect x="4" y="-1" width="1.02" height="1.02" fill="#0090ff"/><rect x="5" y="-1" width="1.02" height="1.02" fill="#00ff72"/><rect x="6" y="-1" width="1.02" height="1.02" fill="#00cfff"/><rect x="7" y="-1" width="1.02" height="1.02" fill="#0090ff"/><rect x="8" y="-1" width="1.02" height="1.02" fill="#0090ff"/><rect x="9" y="-1" width="1.02" height="1.02" fill="#004dff"/><rect x="10" y="-1" width="1.02" height="1.02" fill="#004dff"/><rect x="11" y="-1" width="1.02" height="1.02" fill="#004dff"/><rect x="-2" y="0" width="1.02" height="1.02" fill="#00ff39"/><rect x="-1" y="0" width="1.02" height="1.02" fill="#00ff39"/><rect x="0" y="0" width="1.02" height="1.02" fill="#00ff39"/><rect x="1" y="0" width="1.02" height="1.02" fill="#00ff39"/><rect x="2" y="0" width="1.02" height="1.02" fill="#00ff39"/><rect x="3" y="0" width="1.02" height="1.02" fill="#00ff72"/><rect x="4" y="0" width="1.02" height="1.02" fill="#0090ff"/><rect x="5" y="0" width="1.02" height="1.02" fill="#00ff72"/><rect x="6" y="0" width="1.02" height="1.02" fill="#00cfff"/><rect x="7" y="0" width="1.02" height="1.02" fill="#0090ff"/><rect x="8" y="0" width="1.02" height="1.02" fill="#0090ff"/><rect x="9" y="0" width="1.02" height="1.02" fill="#004dff"/><rect x="10" y="0" width="1.02" height="1.02" fill="#004dff"/><rect x="11" y="0" width="1.02" height="1.02" fill="#004dff"/><rect x="-2" y="1" width="1.02" height="1.02" fill="#006fff"/><rect x="-1" y="1" width="1.02" height="1.02" fill="#006fff"/><rect x="0" y="1" width="1.02" height="1.02" fill="#006fff"/><rect x="1" y="1" width="1.02" height="1.02" fill="#004dff"/><rect x="2" y="1" width="1.02" height="1.02" fill="#006fff"/><rect x="3" y="1" width="1.02" height="1.02" fill="#0090ff"/><rect x="4" y="1" width="1.02" height="1.02" fill="#002bff"/><rect x="5" y="1" width="1.02" height="1.02" fill="#00ff72"/><rect x="6" y="1" width="1.02" height="1.02" fill="#00cfff"/><rect x="7" y="1" width="1.02" height="1.02" fill="#006fff"/><rect x="8" y="1" width="1.02" height="1.02" fill="#0090ff"/><rect x="9" y="1" width="1.02" height="1.02" fill="#00ff72"/><rect x="10" y="1" width="1.02" height="1.02" fill="#00ff72"/><rect x="11" y="1" width="1.02" height="1.02" fill="#00ff72"/><rect x="-2" y="2" width="1.02" height="1.02" fill="#004dff"/><rect x="-1" y="2" width="1.02" height="1.02" fill="#004dff"/><rect x="0" y="2" width="1.02" height="1.02" fill="#004dff"/><rect x="1" y="2" width="1.02" height="1.02" fill="#006fff"/><rect x="2" y="2" width="1.02" height="1.02" fill="#004dff"/><rect x="3" y="2" width="1.02" height="1.02" fill="#006fff"/><rect x="4" y="2" width="1.02" height="1.02" fill="#006fff"/><rect x="5" y="2" width="1.02" height="1.02" fill="#00ff72"/><rect x="6" y="2" width="1.02" height="1.02" fill="#00cfff"/><rect x="7" y="2" width="1.02" height="1.02" fill="#0090ff"/><rect x="8" y="2" width="1.02" height="1.02" fill="#0090ff"/><rect x="9" y="2" width="1.02" height="1.02" fill="#00ff72"/><rect x="10" y="2" width="1.02" height="1.02" fill="#00ff72"/><rect x="11" y="2" width="1.02" height="1.02" fill="#00ff72"/><rect x="-2" y="3" width="1.02" height="1.02" fill="#006fff"/><rect x="-1" y="3" width="1.02" height="1.02" fill="#006fff"/><rect x="0" y="3" width="1.02" height="1.02" fill="#006fff"/><rect x="1" y="3" width="1.02" height="1.02" fill="#006fff"/><rect x="2" y="3" width="1.02" height="1.02" fill="#004dff"/><rect x="3" y="3" width="1.02" height="1.02" fill="#00ffb0"/><rect x="4" y="3" width="1.02" height="1.02" fill="#0090ff"/><rect x="5" y="3" width="1.02" height="1.02" fill="#00ffb0"/><rect x="6" y="3" width="1.02" height="1.02" fill="#006fff"/><rect x="7" y="3" width="1.02" height="1.02" fill="#004dff"/><rect x="8" y="3" width="1.02" height="1.02" fill="#0090ff"/><rect x="9" y="3" width="1.02" height="1.02" fill="#00ff72"/><rect x="10" y="3" width="1.02" height="1.02" fill="#00ff72"/><rect x="11" y="3" width="1.02" height="1.02" fill="#00ff72"/><rect x="-2" y="4" width="1.02" height="1.02" fill="#006fff"/><rect x="-1" y="4" width="1.02" height="1.02" fill="#006fff"/><rect x="0" y="4" width="1.02" height="1.02" fill="#006fff"/><rect x="1" y="4" width="1.02" height="1.02" fill="#006fff"/><rect x="2" y="4" width="1.02" height="1.02" fill="#004dff"/><rect x="3" y="4" width="1.02" height="1.02" fill="#00ffb0"/><rect x="4" y="4" width="1.02" height="1.02" fill="#0090ff"/><rect x="5" y="4" width="1.02" height="1.02" fill="#006fff"/><rect x="6" y="4" width="1.02" height="1.02" fill="#004dff"/><rect x="7" y="4" width="1.02" height="1.02" fill="#006fff"/><rect x="8" y="4" width="1.02" height="1.02" fill="#006fff"/><rect x="9" y="4" width="1.02" height="1.02" fill="#00ffb0"/><rect x="10" y="4" width="1.02" height="1.02" fill="#00ffb0"/><rect x="11" y="4" width="1.02" height="1.02" fill="#00ffb0"/><rect x="-2" y="5" width="1.02" height="1.02" fill="#004dff"/><rect x="-1" y="5" width="1.02" height="1.02" fill="#004dff"/><rect x="0" y="5" width="1.02" height="1.02" fill="#004dff"/><rect x="1" y="5" width="1.02" height="1.02" fill="#006fff"/><rect x="2" y="5" width="1.02" height="1.02" fill="#0090ff"/><rect x="3" y="5" width="1.02" height="1.02" fill="#00ffb0"/><rect x="4" y="5" width="1.02" height="1.02" fill="#0090ff"/><rect x="5" y="5" width="1.02" height="1.02" fill="#00ff72"/><rect x="6" y="5" width="1.02" height="1.02" fill="#00cfff"/><rect x="7" y="5" width="1.02" height="1.02" fill="#0090ff"/><rect x="8" y="5" width="1.02" height="1.02" fill="#0090ff"/><rect x="9" y="5" width="1.02" height="1.02" fill="#004dff"/><rect x="10" y="5" width="1.02" height="1.02" fill="#004dff"/><rect x="11" y="5" width="1.02" height="1.02" fill="#004dff"/><rect x="-2" y="6" width="1.02" height="1.02" fill="#0090ff"/><rect x="-1" y="6" width="1.02" height="1.02" fill="#0090ff"/><rect x="0" y="6" width="1.02" height="1.02" fill="#0090ff"/><rect x="1" y="6" width="1.02" height="1.02" fill="#00cfff"/><rect x="2" y="6" width="1.02" height="1.02" fill="#00cfff"/><rect x="3" y="6" width="1.02" height="1.02" fill="#00cfff"/><rect x="4" y="6" width="1.02" height="1.02" fill="#0090ff"/><rect x="5" y="6" width="1.02" height="1.02" fill="#00ff39"/><rect x="6" y="6" width="1.02" height="1.02" fill="#00ff00"/><rect x="7" y="6" width="1.02" height="1.02" fill="#00ff00"/><rect x="8" y="6" width="1.02" height="1.02" fill="#00ff00"/><rect x="9" y="6" width="1.02" height="1.02" fill="#00ff39"/><rect x="10" y="6" width="1.02" height="1.02" fill="#00ff39"/><rect x="11" y="6" width="1.02" height="1.02" fill="#00ff39"/><rect x="-2" y="7" width="1.02" height="1.02" fill="#00cfff"/><rect x="-1" y="7" width="1.02" height="1.02" fill="#00cfff"/><rect x="0" y="7" width="1.02" height="1.02" fill="#00cfff"/><rect x="1" y="7" width="1.02" height="1.02" fill="#00cfff"/><rect x="2" y="7" width="1.02" height="1.02" fill="#00cfff"/><rect x="3" y="7" width="1.02" height="1.02" fill="#00ffef"/><rect x="4" y="7" width="1.02" height="1.02" fill="#00ff39"/><rect x="5" y="7" width="1.02" height="1.02" fill="#006fff"/><rect x="6" y="7" width="1.02" height="1.02" fill="#00ffef"/><rect x="7" y="7" width="1.02" height="1.02" fill="#00ffb0"/><rect x="8" y="7" width="1.02" height="1.02" fill="#00ffef"/><rect x="9" y="7" width="1.02" height="1.02" fill="#00ff72"/><rect x="10" y="7" width="1.02" height="1.02" fill="#00ff72"/><rect x="11" y="7" width="1.02" height="1.02" fill="#00ff72"/><rect x="-2" y="8" width="1.02" height="1.02" fill="#00cfff"/><rect x="-1" y="8" width="1.02" height="1.02" fill="#00cfff"/><rect x="0" y="8" width="1.02" height="1.02" fill="#00cfff"/><rect x="1" y="8" width="1.02" height="1.02" fill="#00ffef"/><rect x="2" y="8" width="1.02" height="1.02" fill="#00ff39"/><rect x="3" y="8" width="1.02" height="1.02" fill="#00cfff"/><rect x="4" y="8" width="1.02" height="1.02" fill="#00ff72"/><rect x="5" y="8" width="1.02" height="1.02" fill="#00cfff"/><rect x="6" y="8" width="1.02" height="1.02" fill="#00ff72"/><rect x="7" y="8" width="1.02" height="1.02" fill="#00ff00"/><rect x="8" y="8" width="1.02" height="1.02" fill="#00ffef"/><rect x="9" y="8" width="1.02" height="1.02" fill="#00ff72"/><rect x="10" y="8" width="1.02" height="1.02" fill="#00ff72"/><rect x="11" y="8" width="1.02" height="1.02" fill="#00ff72"/><rect x="-2" y="9" width="1.02" height="1.02" fill="#00ffef"/><rect x="-1" y="9" width="1.02" height="1.02" fill="#00ffef"/><rect x="0" y="9" width="1.02" height="1.02" fill="#00ffef"/><rect x="1" y="9" width="1.02" height="1.02" fill="#00ff39"/><rect x="2" y="9" width="1.02" height="1.02" fill="#00ff00"/><rect x="3" y="9" width="1.02" height="1.02" fill="#00ffef"/><rect x="4" y="9" width="1.02" height="1.02" fill="#00cfff"/><rect x="5" y="9" width="1.02" height="1.02" fill="#00ffef"/><rect x="6" y="9" width="1.02" height="1.02" fill="#00ff39"/><rect x="7" y="9" width="1.02" height="1.02" fill="#00ff00"/><rect x="8" y="9" width="1.02" height="1.02" fill="#00ffef"/><rect x="9" y="9" width="1.02" height="1.02" fill="#00ff72"/><rect x="10" y="9" width="1.02" height="1.02" fill="#00ff72"/><rect x="11" y="9" width="1.02" height="1.02" fill="#00ff72"/><rect x="-2" y="10" width="1.02" height="1.02" fill="#00ffef"/><rect x="-1" y="10" width="1.02" height="1.02" fill="#00ffef"/><rect x="0" y="10" width="1.02" height="1.02" fill="#00ffef"/><rect x="1" y="10" width="1.02" height="1.02" fill="#00ff39"/><rect x="2" y="10" width="1.02" height="1.02" fill="#00ff00"/><rect x="3" y="10" width="1.02" height="1.02" fill="#00ffef"/><rect x="4" y="10" width="1.02" height="1.02" fill="#00cfff"/><rect x="5" y="10" width="1.02" height="1.02" fill="#00ffef"/><rect x="6" y="10" width="1.02" height="1.02" fill="#00ff39"/><rect x="7" y="10" width="1.02" height="1.02" fill="#00ff00"/><rect x="8" y="10" width="1.02" height="1.02" fill="#00ffef"/><rect x="9" y="10" width="1.02" height="1.02" fill="#00ff72"/><rect x="10" y="10" width="1.02" height="1.02" fill="#00ff72"/><rect x="11" y="10" width="1.02" height="1.02" fill="#00ff72"/><rect x="-2" y="11" width="1.02" height="1.02" fill="#00ffef"/><rect x="-1" y="11" width="1.02" height="1.02" fill="#00ffef"/><rect x="0" y="11" width="1.02" height="1.02" fill="#00ffef"/><rect x="1" y="11" width="1.02" height="1.02" fill="#00ff39"/><rect x="2" y="11" width="1.02" height="1.02" fill="#00ff00"/><rect x="3" y="11" width="1.02" height="1.02" fill="#00ffef"/><rect x="4" y="11" width="1.02" height="1.02" fill="#00cfff"/><rect x="5" y="11" width="1.02" height="1.02" fill="#00ffef"/><rect x="6" y="11" width="1.02" height="1.02" fill="#00ff39"/><rect x="7" y="11" width="1.02" height="1.02" fill="#00ff00"/><rect x="8" y="11" width="1.02" height="1.02" fill="#00ffef"/><rect x="9" y="11" width="1.02" height="1.02" fill="#00ff72"/><rect x="10" y="11" width="1.02" height="1.02" fill="#00ff72"/><rect x="11" y="11" width="1.02" height="1.02" fill="#00ff72"/></g><g filter="url(#bs)"><ellipse cx="2.046" cy="0.465" rx="1.805" ry="0.414" fill="#00ff00"/><ellipse cx="5.958" cy="1.799" rx="0.502" ry="1.551" fill="#00ff72"/><ellipse cx="9.458" cy="2.896" rx="0.451" ry="1.551" fill="#00ff72"/><ellipse cx="3.460" cy="4.654" rx="0.451" ry="1.034" fill="#00ffb0"/><ellipse cx="7.472" cy="6.618" rx="2.106" ry="0.672" fill="#00ff00"/><ellipse cx="4.443" cy="7.983" rx="0.652" ry="0.672" fill="#00ff00"/><ellipse cx="1.926" cy="9.142" rx="0.702" ry="0.724" fill="#00ff00"/><ellipse cx="7.161" cy="9.069" rx="0.802" ry="0.827" fill="#00ff00"/><ellipse cx="9.338" cy="8.232" rx="0.502" ry="1.241" fill="#00ff39"/></g></svg><svg x="54.5" y="201" width="99.7" height="96.7" viewBox="54.5 201 99.7 96.7"><g fill="none" stroke="#000" stroke-width="1.35" stroke-dasharray="6 2.6"><ellipse cx="74.9" cy="206" rx="20" ry="5"/><ellipse cx="113.9" cy="218.4" rx="6.7" ry="17.7"/><ellipse cx="148.5" cy="229" rx="6" ry="18"/><ellipse cx="89" cy="246" rx="6" ry="12"/><ellipse cx="129" cy="265" rx="23.5" ry="8"/><ellipse cx="98.8" cy="278.2" rx="7.8" ry="8"/><ellipse cx="73.7" cy="289.4" rx="8.5" ry="8.5"/><ellipse cx="125.9" cy="288.7" rx="9.5" ry="9.5"/><ellipse cx="147.6" cy="280.6" rx="6.5" ry="15"/></g></svg><svg x="223" y="201" width="100.8" height="96.7" viewBox="0 0 10 10" preserveAspectRatio="none"><g filter="url(#bl)" shape-rendering="crispEdges"><rect x="-2" y="-2" width="1.02" height="1.02" fill="#ffff00"/><rect x="-1" y="-2" width="1.02" height="1.02" fill="#ffff00"/><rect x="0" y="-2" width="1.02" height="1.02" fill="#ffff00"/><rect x="1" y="-2" width="1.02" height="1.02" fill="#3cff00"/><rect x="2" y="-2" width="1.02" height="1.02" fill="#bbff00"/><rect x="3" y="-2" width="1.02" height="1.02" fill="#ffc000"/><rect x="4" y="-2" width="1.02" height="1.02" fill="#ffd500"/><rect x="5" y="-2" width="1.02" height="1.02" fill="#ffc000"/><rect x="6" y="-2" width="1.02" height="1.02" fill="#ffff00"/><rect x="7" y="-2" width="1.02" height="1.02" fill="#ffc000"/><rect x="8" y="-2" width="1.02" height="1.02" fill="#3cff00"/><rect x="9" y="-2" width="1.02" height="1.02" fill="#8000ff"/><rect x="10" y="-2" width="1.02" height="1.02" fill="#8000ff"/><rect x="11" y="-2" width="1.02" height="1.02" fill="#8000ff"/><rect x="-2" y="-1" width="1.02" height="1.02" fill="#ffff00"/><rect x="-1" y="-1" width="1.02" height="1.02" fill="#ffff00"/><rect x="0" y="-1" width="1.02" height="1.02" fill="#ffff00"/><rect x="1" y="-1" width="1.02" height="1.02" fill="#3cff00"/><rect x="2" y="-1" width="1.02" height="1.02" fill="#bbff00"/><rect x="3" y="-1" width="1.02" height="1.02" fill="#ffc000"/><rect x="4" y="-1" width="1.02" height="1.02" fill="#ffd500"/><rect x="5" y="-1" width="1.02" height="1.02" fill="#ffc000"/><rect x="6" y="-1" width="1.02" height="1.02" fill="#ffff00"/><rect x="7" y="-1" width="1.02" height="1.02" fill="#ffc000"/><rect x="8" y="-1" width="1.02" height="1.02" fill="#3cff00"/><rect x="9" y="-1" width="1.02" height="1.02" fill="#8000ff"/><rect x="10" y="-1" width="1.02" height="1.02" fill="#8000ff"/><rect x="11" y="-1" width="1.02" height="1.02" fill="#8000ff"/><rect x="-2" y="0" width="1.02" height="1.02" fill="#ffff00"/><rect x="-1" y="0" width="1.02" height="1.02" fill="#ffff00"/><rect x="0" y="0" width="1.02" height="1.02" fill="#ffff00"/><rect x="1" y="0" width="1.02" height="1.02" fill="#3cff00"/><rect x="2" y="0" width="1.02" height="1.02" fill="#bbff00"/><rect x="3" y="0" width="1.02" height="1.02" fill="#ffc000"/><rect x="4" y="0" width="1.02" height="1.02" fill="#ffd500"/><rect x="5" y="0" width="1.02" height="1.02" fill="#ffc000"/><rect x="6" y="0" width="1.02" height="1.02" fill="#ffff00"/><rect x="7" y="0" width="1.02" height="1.02" fill="#ffc000"/><rect x="8" y="0" width="1.02" height="1.02" fill="#3cff00"/><rect x="9" y="0" width="1.02" height="1.02" fill="#8000ff"/><rect x="10" y="0" width="1.02" height="1.02" fill="#8000ff"/><rect x="11" y="0" width="1.02" height="1.02" fill="#8000ff"/><rect x="-2" y="1" width="1.02" height="1.02" fill="#bbff00"/><rect x="-1" y="1" width="1.02" height="1.02" fill="#bbff00"/><rect x="0" y="1" width="1.02" height="1.02" fill="#bbff00"/><rect x="1" y="1" width="1.02" height="1.02" fill="#3cff00"/><rect x="2" y="1" width="1.02" height="1.02" fill="#78ff00"/><rect x="3" y="1" width="1.02" height="1.02" fill="#bbff00"/><rect x="4" y="1" width="1.02" height="1.02" fill="#ffae00"/><rect x="5" y="1" width="1.02" height="1.02" fill="#ffc000"/><rect x="6" y="1" width="1.02" height="1.02" fill="#bbff00"/><rect x="7" y="1" width="1.02" height="1.02" fill="#bbff00"/><rect x="8" y="1" width="1.02" height="1.02" fill="#ffae00"/><rect x="9" y="1" width="1.02" height="1.02" fill="#78ff00"/><rect x="10" y="1" width="1.02" height="1.02" fill="#78ff00"/><rect x="11" y="1" width="1.02" height="1.02" fill="#78ff00"/><rect x="-2" y="2" width="1.02" height="1.02" fill="#bbff00"/><rect x="-1" y="2" width="1.02" height="1.02" fill="#bbff00"/><rect x="0" y="2" width="1.02" height="1.02" fill="#bbff00"/><rect x="1" y="2" width="1.02" height="1.02" fill="#ffff00"/><rect x="2" y="2" width="1.02" height="1.02" fill="#ffc000"/><rect x="3" y="2" width="1.02" height="1.02" fill="#bbff00"/><rect x="4" y="2" width="1.02" height="1.02" fill="#ffae00"/><rect x="5" y="2" width="1.02" height="1.02" fill="#ffd500"/><rect x="6" y="2" width="1.02" height="1.02" fill="#3cff00"/><rect x="7" y="2" width="1.02" height="1.02" fill="#3cff00"/><rect x="8" y="2" width="1.02" height="1.02" fill="#ffff00"/><rect x="9" y="2" width="1.02" height="1.02" fill="#bbff00"/><rect x="10" y="2" width="1.02" height="1.02" fill="#bbff00"/><rect x="11" y="2" width="1.02" height="1.02" fill="#bbff00"/><rect x="-2" y="3" width="1.02" height="1.02" fill="#bbff00"/><rect x="-1" y="3" width="1.02" height="1.02" fill="#bbff00"/><rect x="0" y="3" width="1.02" height="1.02" fill="#bbff00"/><rect x="1" y="3" width="1.02" height="1.02" fill="#ffff00"/><rect x="2" y="3" width="1.02" height="1.02" fill="#ffd500"/><rect x="3" y="3" width="1.02" height="1.02" fill="#78ff00"/><rect x="4" y="3" width="1.02" height="1.02" fill="#3cff00"/><rect x="5" y="3" width="1.02" height="1.02" fill="#ffff00"/><rect x="6" y="3" width="1.02" height="1.02" fill="#ffc000"/><rect x="7" y="3" width="1.02" height="1.02" fill="#3cff00"/><rect x="8" y="3" width="1.02" height="1.02" fill="#78ff00"/><rect x="9" y="3" width="1.02" height="1.02" fill="#78ff00"/><rect x="10" y="3" width="1.02" height="1.02" fill="#78ff00"/><rect x="11" y="3" width="1.02" height="1.02" fill="#78ff00"/><rect x="-2" y="4" width="1.02" height="1.02" fill="#ffff00"/><rect x="-1" y="4" width="1.02" height="1.02" fill="#ffff00"/><rect x="0" y="4" width="1.02" height="1.02" fill="#ffff00"/><rect x="1" y="4" width="1.02" height="1.02" fill="#ffd500"/><rect x="2" y="4" width="1.02" height="1.02" fill="#ffc000"/><rect x="3" y="4" width="1.02" height="1.02" fill="#ffc000"/><rect x="4" y="4" width="1.02" height="1.02" fill="#ffd500"/><rect x="5" y="4" width="1.02" height="1.02" fill="#ffff00"/><rect x="6" y="4" width="1.02" height="1.02" fill="#ffd500"/><rect x="7" y="4" width="1.02" height="1.02" fill="#3cff00"/><rect x="8" y="4" width="1.02" height="1.02" fill="#ffd500"/><rect x="9" y="4" width="1.02" height="1.02" fill="#bbff00"/><rect x="10" y="4" width="1.02" height="1.02" fill="#bbff00"/><rect x="11" y="4" width="1.02" height="1.02" fill="#bbff00"/><rect x="-2" y="5" width="1.02" height="1.02" fill="#ffff00"/><rect x="-1" y="5" width="1.02" height="1.02" fill="#ffff00"/><rect x="0" y="5" width="1.02" height="1.02" fill="#ffff00"/><rect x="1" y="5" width="1.02" height="1.02" fill="#ffae00"/><rect x="2" y="5" width="1.02" height="1.02" fill="#ffae00"/><rect x="3" y="5" width="1.02" height="1.02" fill="#ffae00"/><rect x="4" y="5" width="1.02" height="1.02" fill="#ffc000"/><rect x="5" y="5" width="1.02" height="1.02" fill="#3cff00"/><rect x="6" y="5" width="1.02" height="1.02" fill="#00ff00"/><rect x="7" y="5" width="1.02" height="1.02" fill="#3cff00"/><rect x="8" y="5" width="1.02" height="1.02" fill="#ffd500"/><rect x="9" y="5" width="1.02" height="1.02" fill="#78ff00"/><rect x="10" y="5" width="1.02" height="1.02" fill="#78ff00"/><rect x="11" y="5" width="1.02" height="1.02" fill="#78ff00"/><rect x="-2" y="6" width="1.02" height="1.02" fill="#bbff00"/><rect x="-1" y="6" width="1.02" height="1.02" fill="#bbff00"/><rect x="0" y="6" width="1.02" height="1.02" fill="#bbff00"/><rect x="1" y="6" width="1.02" height="1.02" fill="#bbff00"/><rect x="2" y="6" width="1.02" height="1.02" fill="#bbff00"/><rect x="3" y="6" width="1.02" height="1.02" fill="#bbff00"/><rect x="4" y="6" width="1.02" height="1.02" fill="#bbff00"/><rect x="5" y="6" width="1.02" height="1.02" fill="#78ff00"/><rect x="6" y="6" width="1.02" height="1.02" fill="#ffff00"/><rect x="7" y="6" width="1.02" height="1.02" fill="#78ff00"/><rect x="8" y="6" width="1.02" height="1.02" fill="#3cff00"/><rect x="9" y="6" width="1.02" height="1.02" fill="#3cff00"/><rect x="10" y="6" width="1.02" height="1.02" fill="#3cff00"/><rect x="11" y="6" width="1.02" height="1.02" fill="#3cff00"/><rect x="-2" y="7" width="1.02" height="1.02" fill="#8000ff"/><rect x="-1" y="7" width="1.02" height="1.02" fill="#8000ff"/><rect x="0" y="7" width="1.02" height="1.02" fill="#8000ff"/><rect x="1" y="7" width="1.02" height="1.02" fill="#00ff39"/><rect x="2" y="7" width="1.02" height="1.02" fill="#3cff00"/><rect x="3" y="7" width="1.02" height="1.02" fill="#bbff00"/><rect x="4" y="7" width="1.02" height="1.02" fill="#ff4000"/><rect x="5" y="7" width="1.02" height="1.02" fill="#ffff00"/><rect x="6" y="7" width="1.02" height="1.02" fill="#ffd500"/><rect x="7" y="7" width="1.02" height="1.02" fill="#ffd500"/><rect x="8" y="7" width="1.02" height="1.02" fill="#ffd500"/><rect x="9" y="7" width="1.02" height="1.02" fill="#3cff00"/><rect x="10" y="7" width="1.02" height="1.02" fill="#3cff00"/><rect x="11" y="7" width="1.02" height="1.02" fill="#3cff00"/><rect x="-2" y="8" width="1.02" height="1.02" fill="#8000ff"/><rect x="-1" y="8" width="1.02" height="1.02" fill="#8000ff"/><rect x="0" y="8" width="1.02" height="1.02" fill="#8000ff"/><rect x="1" y="8" width="1.02" height="1.02" fill="#00ff72"/><rect x="2" y="8" width="1.02" height="1.02" fill="#78ff00"/><rect x="3" y="8" width="1.02" height="1.02" fill="#ffd500"/><rect x="4" y="8" width="1.02" height="1.02" fill="#bbff00"/><rect x="5" y="8" width="1.02" height="1.02" fill="#3cff00"/><rect x="6" y="8" width="1.02" height="1.02" fill="#ffd500"/><rect x="7" y="8" width="1.02" height="1.02" fill="#ffd500"/><rect x="8" y="8" width="1.02" height="1.02" fill="#bbff00"/><rect x="9" y="8" width="1.02" height="1.02" fill="#3cff00"/><rect x="10" y="8" width="1.02" height="1.02" fill="#3cff00"/><rect x="11" y="8" width="1.02" height="1.02" fill="#3cff00"/><rect x="-2" y="9" width="1.02" height="1.02" fill="#8000ff"/><rect x="-1" y="9" width="1.02" height="1.02" fill="#8000ff"/><rect x="0" y="9" width="1.02" height="1.02" fill="#8000ff"/><rect x="1" y="9" width="1.02" height="1.02" fill="#00ffb0"/><rect x="2" y="9" width="1.02" height="1.02" fill="#bbff00"/><rect x="3" y="9" width="1.02" height="1.02" fill="#ffd500"/><rect x="4" y="9" width="1.02" height="1.02" fill="#00ffef"/><rect x="5" y="9" width="1.02" height="1.02" fill="#00ff00"/><rect x="6" y="9" width="1.02" height="1.02" fill="#ffd500"/><rect x="7" y="9" width="1.02" height="1.02" fill="#ffff00"/><rect x="8" y="9" width="1.02" height="1.02" fill="#78ff00"/><rect x="9" y="9" width="1.02" height="1.02" fill="#ffd500"/><rect x="10" y="9" width="1.02" height="1.02" fill="#ffd500"/><rect x="11" y="9" width="1.02" height="1.02" fill="#ffd500"/><rect x="-2" y="10" width="1.02" height="1.02" fill="#8000ff"/><rect x="-1" y="10" width="1.02" height="1.02" fill="#8000ff"/><rect x="0" y="10" width="1.02" height="1.02" fill="#8000ff"/><rect x="1" y="10" width="1.02" height="1.02" fill="#00ffb0"/><rect x="2" y="10" width="1.02" height="1.02" fill="#bbff00"/><rect x="3" y="10" width="1.02" height="1.02" fill="#ffd500"/><rect x="4" y="10" width="1.02" height="1.02" fill="#00ffef"/><rect x="5" y="10" width="1.02" height="1.02" fill="#00ff00"/><rect x="6" y="10" width="1.02" height="1.02" fill="#ffd500"/><rect x="7" y="10" width="1.02" height="1.02" fill="#ffff00"/><rect x="8" y="10" width="1.02" height="1.02" fill="#78ff00"/><rect x="9" y="10" width="1.02" height="1.02" fill="#ffd500"/><rect x="10" y="10" width="1.02" height="1.02" fill="#ffd500"/><rect x="11" y="10" width="1.02" height="1.02" fill="#ffd500"/><rect x="-2" y="11" width="1.02" height="1.02" fill="#8000ff"/><rect x="-1" y="11" width="1.02" height="1.02" fill="#8000ff"/><rect x="0" y="11" width="1.02" height="1.02" fill="#8000ff"/><rect x="1" y="11" width="1.02" height="1.02" fill="#00ffb0"/><rect x="2" y="11" width="1.02" height="1.02" fill="#bbff00"/><rect x="3" y="11" width="1.02" height="1.02" fill="#ffd500"/><rect x="4" y="11" width="1.02" height="1.02" fill="#00ffef"/><rect x="5" y="11" width="1.02" height="1.02" fill="#00ff00"/><rect x="6" y="11" width="1.02" height="1.02" fill="#ffd500"/><rect x="7" y="11" width="1.02" height="1.02" fill="#ffff00"/><rect x="8" y="11" width="1.02" height="1.02" fill="#78ff00"/><rect x="9" y="11" width="1.02" height="1.02" fill="#ffd500"/><rect x="10" y="11" width="1.02" height="1.02" fill="#ffd500"/><rect x="11" y="11" width="1.02" height="1.02" fill="#ffd500"/></g><g filter="url(#bs)"><ellipse cx="3.423" cy="0.538" rx="0.645" ry="0.414" fill="#ffd500"/><ellipse cx="5.139" cy="0.693" rx="0.546" ry="0.620" fill="#ffd500"/><ellipse cx="7.103" cy="0.641" rx="0.496" ry="0.569" fill="#ffd500"/><ellipse cx="4.683" cy="2.058" rx="0.595" ry="0.931" fill="#ffc000"/><ellipse cx="8.383" cy="1.779" rx="0.694" ry="0.569" fill="#ffc000"/><ellipse cx="2.163" cy="2.896" rx="0.526" ry="0.600" fill="#ffd500"/><ellipse cx="6.012" cy="4.147" rx="0.546" ry="0.600" fill="#ffd500"/><ellipse cx="8.333" cy="5.036" rx="0.496" ry="0.879" fill="#ffd500"/><ellipse cx="3.016" cy="5.440" rx="1.587" ry="0.672" fill="#ffc000"/><ellipse cx="6.597" cy="8.263" rx="0.694" ry="1.655" fill="#ffd500"/><ellipse cx="8.135" cy="8.159" rx="0.496" ry="0.465" fill="#ffd500"/><ellipse cx="3.274" cy="9.317" rx="0.546" ry="0.672" fill="#ffd500"/><ellipse cx="9.425" cy="9.700" rx="0.496" ry="0.414" fill="#ffd500"/><rect x="-0.298" y="6.980" width="1.786" height="3.257" fill="#00cfff"/><rect x="-0.298" y="6.980" width="1.538" height="3.257" fill="#8000ff"/><ellipse cx="4.494" cy="7.787" rx="0.744" ry="0.620" fill="#ff8900"/><ellipse cx="4.494" cy="7.787" rx="0.427" ry="0.393" fill="#f60000"/><rect x="4.018" y="8.790" width="0.942" height="1.448" fill="#00ffef"/><ellipse cx="9.871" cy="0.207" rx="0.347" ry="0.465" fill="#8000ff"/></g></svg><svg x="223" y="201" width="100.8" height="96.7" viewBox="223 201 100.8 96.7"><g fill="none" stroke="#000" stroke-width="1.35" stroke-dasharray="6 2.6"><ellipse cx="257.5" cy="206.2" rx="8" ry="5.5"/><ellipse cx="274.8" cy="207.7" rx="7" ry="7.5"/><ellipse cx="294.6" cy="207.2" rx="6.3" ry="7"/><ellipse cx="270.2" cy="220.9" rx="7.5" ry="10.5"/><ellipse cx="307.5" cy="218.2" rx="8.5" ry="7"/><ellipse cx="244.8" cy="229" rx="6.8" ry="7.3"/><ellipse cx="283.6" cy="241.1" rx="7" ry="7.3"/><ellipse cx="307" cy="249.7" rx="6.5" ry="10.2"/><ellipse cx="253.4" cy="253.6" rx="17.8" ry="8.2"/><ellipse cx="268.5" cy="276.2" rx="9" ry="7.5"/><ellipse cx="289.5" cy="280.9" rx="8.5" ry="18.5"/><ellipse cx="305" cy="279.9" rx="6.7" ry="5.9"/><ellipse cx="256" cy="291.1" rx="7" ry="8"/><ellipse cx="318" cy="294.8" rx="6.5" ry="5.5"/></g></svg><svg x="390" y="201" width="100" height="96.7" viewBox="0 0 10 10" preserveAspectRatio="none"><g filter="url(#bl)" shape-rendering="crispEdges"><rect x="-2" y="-2" width="1.02" height="1.02" fill="#0090ff"/><rect x="-1" y="-2" width="1.02" height="1.02" fill="#0090ff"/><rect x="0" y="-2" width="1.02" height="1.02" fill="#0090ff"/><rect x="1" y="-2" width="1.02" height="1.02" fill="#0090ff"/><rect x="2" y="-2" width="1.02" height="1.02" fill="#006fff"/><rect x="3" y="-2" width="1.02" height="1.02" fill="#006fff"/><rect x="4" y="-2" width="1.02" height="1.02" fill="#006fff"/><rect x="5" y="-2" width="1.02" height="1.02" fill="#002bff"/><rect x="6" y="-2" width="1.02" height="1.02" fill="#0009ff"/><rect x="7" y="-2" width="1.02" height="1.02" fill="#002bff"/><rect x="8" y="-2" width="1.02" height="1.02" fill="#006fff"/><rect x="9" y="-2" width="1.02" height="1.02" fill="#00ff00"/><rect x="10" y="-2" width="1.02" height="1.02" fill="#00ff00"/><rect x="11" y="-2" width="1.02" height="1.02" fill="#00ff00"/><rect x="-2" y="-1" width="1.02" height="1.02" fill="#0090ff"/><rect x="-1" y="-1" width="1.02" height="1.02" fill="#0090ff"/><rect x="0" y="-1" width="1.02" height="1.02" fill="#0090ff"/><rect x="1" y="-1" width="1.02" height="1.02" fill="#0090ff"/><rect x="2" y="-1" width="1.02" height="1.02" fill="#006fff"/><rect x="3" y="-1" width="1.02" height="1.02" fill="#006fff"/><rect x="4" y="-1" width="1.02" height="1.02" fill="#006fff"/><rect x="5" y="-1" width="1.02" height="1.02" fill="#002bff"/><rect x="6" y="-1" width="1.02" height="1.02" fill="#0009ff"/><rect x="7" y="-1" width="1.02" height="1.02" fill="#002bff"/><rect x="8" y="-1" width="1.02" height="1.02" fill="#006fff"/><rect x="9" y="-1" width="1.02" height="1.02" fill="#00ff00"/><rect x="10" y="-1" width="1.02" height="1.02" fill="#00ff00"/><rect x="11" y="-1" width="1.02" height="1.02" fill="#00ff00"/><rect x="-2" y="0" width="1.02" height="1.02" fill="#0090ff"/><rect x="-1" y="0" width="1.02" height="1.02" fill="#0090ff"/><rect x="0" y="0" width="1.02" height="1.02" fill="#0090ff"/><rect x="1" y="0" width="1.02" height="1.02" fill="#0090ff"/><rect x="2" y="0" width="1.02" height="1.02" fill="#006fff"/><rect x="3" y="0" width="1.02" height="1.02" fill="#006fff"/><rect x="4" y="0" width="1.02" height="1.02" fill="#006fff"/><rect x="5" y="0" width="1.02" height="1.02" fill="#002bff"/><rect x="6" y="0" width="1.02" height="1.02" fill="#0009ff"/><rect x="7" y="0" width="1.02" height="1.02" fill="#002bff"/><rect x="8" y="0" width="1.02" height="1.02" fill="#006fff"/><rect x="9" y="0" width="1.02" height="1.02" fill="#00ff00"/><rect x="10" y="0" width="1.02" height="1.02" fill="#00ff00"/><rect x="11" y="0" width="1.02" height="1.02" fill="#00ff00"/><rect x="-2" y="1" width="1.02" height="1.02" fill="#0090ff"/><rect x="-1" y="1" width="1.02" height="1.02" fill="#0090ff"/><rect x="0" y="1" width="1.02" height="1.02" fill="#0090ff"/><rect x="1" y="1" width="1.02" height="1.02" fill="#0090ff"/><rect x="2" y="1" width="1.02" height="1.02" fill="#006fff"/><rect x="3" y="1" width="1.02" height="1.02" fill="#0009ff"/><rect x="4" y="1" width="1.02" height="1.02" fill="#00cfff"/><rect x="5" y="1" width="1.02" height="1.02" fill="#0090ff"/><rect x="6" y="1" width="1.02" height="1.02" fill="#006fff"/><rect x="7" y="1" width="1.02" height="1.02" fill="#006fff"/><rect x="8" y="1" width="1.02" height="1.02" fill="#006fff"/><rect x="9" y="1" width="1.02" height="1.02" fill="#00ff39"/><rect x="10" y="1" width="1.02" height="1.02" fill="#00ff39"/><rect x="11" y="1" width="1.02" height="1.02" fill="#00ff39"/><rect x="-2" y="2" width="1.02" height="1.02" fill="#0090ff"/><rect x="-1" y="2" width="1.02" height="1.02" fill="#0090ff"/><rect x="0" y="2" width="1.02" height="1.02" fill="#0090ff"/><rect x="1" y="2" width="1.02" height="1.02" fill="#0090ff"/><rect x="2" y="2" width="1.02" height="1.02" fill="#00ffb0"/><rect x="3" y="2" width="1.02" height="1.02" fill="#0009ff"/><rect x="4" y="2" width="1.02" height="1.02" fill="#0090ff"/><rect x="5" y="2" width="1.02" height="1.02" fill="#006fff"/><rect x="6" y="2" width="1.02" height="1.02" fill="#006fff"/><rect x="7" y="2" width="1.02" height="1.02" fill="#006fff"/><rect x="8" y="2" width="1.02" height="1.02" fill="#0090ff"/><rect x="9" y="2" width="1.02" height="1.02" fill="#0090ff"/><rect x="10" y="2" width="1.02" height="1.02" fill="#0090ff"/><rect x="11" y="2" width="1.02" height="1.02" fill="#0090ff"/><rect x="-2" y="3" width="1.02" height="1.02" fill="#0090ff"/><rect x="-1" y="3" width="1.02" height="1.02" fill="#0090ff"/><rect x="0" y="3" width="1.02" height="1.02" fill="#0090ff"/><rect x="1" y="3" width="1.02" height="1.02" fill="#006fff"/><rect x="2" y="3" width="1.02" height="1.02" fill="#00ffef"/><rect x="3" y="3" width="1.02" height="1.02" fill="#0009ff"/><rect x="4" y="3" width="1.02" height="1.02" fill="#002bff"/><rect x="5" y="3" width="1.02" height="1.02" fill="#002bff"/><rect x="6" y="3" width="1.02" height="1.02" fill="#0009ff"/><rect x="7" y="3" width="1.02" height="1.02" fill="#0009ff"/><rect x="8" y="3" width="1.02" height="1.02" fill="#0090ff"/><rect x="9" y="3" width="1.02" height="1.02" fill="#006fff"/><rect x="10" y="3" width="1.02" height="1.02" fill="#006fff"/><rect x="11" y="3" width="1.02" height="1.02" fill="#006fff"/><rect x="-2" y="4" width="1.02" height="1.02" fill="#00ff39"/><rect x="-1" y="4" width="1.02" height="1.02" fill="#00ff39"/><rect x="0" y="4" width="1.02" height="1.02" fill="#00ff39"/><rect x="1" y="4" width="1.02" height="1.02" fill="#00cfff"/><rect x="2" y="4" width="1.02" height="1.02" fill="#006fff"/><rect x="3" y="4" width="1.02" height="1.02" fill="#002bff"/><rect x="4" y="4" width="1.02" height="1.02" fill="#0009ff"/><rect x="5" y="4" width="1.02" height="1.02" fill="#0009ff"/><rect x="6" y="4" width="1.02" height="1.02" fill="#002bff"/><rect x="7" y="4" width="1.02" height="1.02" fill="#0009ff"/><rect x="8" y="4" width="1.02" height="1.02" fill="#006fff"/><rect x="9" y="4" width="1.02" height="1.02" fill="#006fff"/><rect x="10" y="4" width="1.02" height="1.02" fill="#006fff"/><rect x="11" y="4" width="1.02" height="1.02" fill="#006fff"/><rect x="-2" y="5" width="1.02" height="1.02" fill="#00ff00"/><rect x="-1" y="5" width="1.02" height="1.02" fill="#00ff00"/><rect x="0" y="5" width="1.02" height="1.02" fill="#00ff00"/><rect x="1" y="5" width="1.02" height="1.02" fill="#00cfff"/><rect x="2" y="5" width="1.02" height="1.02" fill="#0090ff"/><rect x="3" y="5" width="1.02" height="1.02" fill="#006fff"/><rect x="4" y="5" width="1.02" height="1.02" fill="#3c00ff"/><rect x="5" y="5" width="1.02" height="1.02" fill="#002bff"/><rect x="6" y="5" width="1.02" height="1.02" fill="#006fff"/><rect x="7" y="5" width="1.02" height="1.02" fill="#0090ff"/><rect x="8" y="5" width="1.02" height="1.02" fill="#00cfff"/><rect x="9" y="5" width="1.02" height="1.02" fill="#006fff"/><rect x="10" y="5" width="1.02" height="1.02" fill="#006fff"/><rect x="11" y="5" width="1.02" height="1.02" fill="#006fff"/><rect x="-2" y="6" width="1.02" height="1.02" fill="#00ff72"/><rect x="-1" y="6" width="1.02" height="1.02" fill="#00ff72"/><rect x="0" y="6" width="1.02" height="1.02" fill="#00ff72"/><rect x="1" y="6" width="1.02" height="1.02" fill="#0009ff"/><rect x="2" y="6" width="1.02" height="1.02" fill="#0009ff"/><rect x="3" y="6" width="1.02" height="1.02" fill="#002bff"/><rect x="4" y="6" width="1.02" height="1.02" fill="#002bff"/><rect x="5" y="6" width="1.02" height="1.02" fill="#006fff"/><rect x="6" y="6" width="1.02" height="1.02" fill="#0090ff"/><rect x="7" y="6" width="1.02" height="1.02" fill="#006fff"/><rect x="8" y="6" width="1.02" height="1.02" fill="#00cfff"/><rect x="9" y="6" width="1.02" height="1.02" fill="#006fff"/><rect x="10" y="6" width="1.02" height="1.02" fill="#006fff"/><rect x="11" y="6" width="1.02" height="1.02" fill="#006fff"/><rect x="-2" y="7" width="1.02" height="1.02" fill="#006fff"/><rect x="-1" y="7" width="1.02" height="1.02" fill="#006fff"/><rect x="0" y="7" width="1.02" height="1.02" fill="#006fff"/><rect x="1" y="7" width="1.02" height="1.02" fill="#002bff"/><rect x="2" y="7" width="1.02" height="1.02" fill="#0009ff"/><rect x="3" y="7" width="1.02" height="1.02" fill="#002bff"/><rect x="4" y="7" width="1.02" height="1.02" fill="#00ff72"/><rect x="5" y="7" width="1.02" height="1.02" fill="#002bff"/><rect x="6" y="7" width="1.02" height="1.02" fill="#0009ff"/><rect x="7" y="7" width="1.02" height="1.02" fill="#00cfff"/><rect x="8" y="7" width="1.02" height="1.02" fill="#002bff"/><rect x="9" y="7" width="1.02" height="1.02" fill="#006fff"/><rect x="10" y="7" width="1.02" height="1.02" fill="#006fff"/><rect x="11" y="7" width="1.02" height="1.02" fill="#006fff"/><rect x="-2" y="8" width="1.02" height="1.02" fill="#0090ff"/><rect x="-1" y="8" width="1.02" height="1.02" fill="#0090ff"/><rect x="0" y="8" width="1.02" height="1.02" fill="#0090ff"/><rect x="1" y="8" width="1.02" height="1.02" fill="#006fff"/><rect x="2" y="8" width="1.02" height="1.02" fill="#0090ff"/><rect x="3" y="8" width="1.02" height="1.02" fill="#00ffef"/><rect x="4" y="8" width="1.02" height="1.02" fill="#00ffb0"/><rect x="5" y="8" width="1.02" height="1.02" fill="#006fff"/><rect x="6" y="8" width="1.02" height="1.02" fill="#002bff"/><rect x="7" y="8" width="1.02" height="1.02" fill="#00cfff"/><rect x="8" y="8" width="1.02" height="1.02" fill="#006fff"/><rect x="9" y="8" width="1.02" height="1.02" fill="#006fff"/><rect x="10" y="8" width="1.02" height="1.02" fill="#006fff"/><rect x="11" y="8" width="1.02" height="1.02" fill="#006fff"/><rect x="-2" y="9" width="1.02" height="1.02" fill="#0090ff"/><rect x="-1" y="9" width="1.02" height="1.02" fill="#0090ff"/><rect x="0" y="9" width="1.02" height="1.02" fill="#0090ff"/><rect x="1" y="9" width="1.02" height="1.02" fill="#0090ff"/><rect x="2" y="9" width="1.02" height="1.02" fill="#00ffef"/><rect x="3" y="9" width="1.02" height="1.02" fill="#00ffef"/><rect x="4" y="9" width="1.02" height="1.02" fill="#0090ff"/><rect x="5" y="9" width="1.02" height="1.02" fill="#0090ff"/><rect x="6" y="9" width="1.02" height="1.02" fill="#006fff"/><rect x="7" y="9" width="1.02" height="1.02" fill="#006fff"/><rect x="8" y="9" width="1.02" height="1.02" fill="#006fff"/><rect x="9" y="9" width="1.02" height="1.02" fill="#006fff"/><rect x="10" y="9" width="1.02" height="1.02" fill="#006fff"/><rect x="11" y="9" width="1.02" height="1.02" fill="#006fff"/><rect x="-2" y="10" width="1.02" height="1.02" fill="#0090ff"/><rect x="-1" y="10" width="1.02" height="1.02" fill="#0090ff"/><rect x="0" y="10" width="1.02" height="1.02" fill="#0090ff"/><rect x="1" y="10" width="1.02" height="1.02" fill="#0090ff"/><rect x="2" y="10" width="1.02" height="1.02" fill="#00ffef"/><rect x="3" y="10" width="1.02" height="1.02" fill="#00ffef"/><rect x="4" y="10" width="1.02" height="1.02" fill="#0090ff"/><rect x="5" y="10" width="1.02" height="1.02" fill="#0090ff"/><rect x="6" y="10" width="1.02" height="1.02" fill="#006fff"/><rect x="7" y="10" width="1.02" height="1.02" fill="#006fff"/><rect x="8" y="10" width="1.02" height="1.02" fill="#006fff"/><rect x="9" y="10" width="1.02" height="1.02" fill="#006fff"/><rect x="10" y="10" width="1.02" height="1.02" fill="#006fff"/><rect x="11" y="10" width="1.02" height="1.02" fill="#006fff"/><rect x="-2" y="11" width="1.02" height="1.02" fill="#0090ff"/><rect x="-1" y="11" width="1.02" height="1.02" fill="#0090ff"/><rect x="0" y="11" width="1.02" height="1.02" fill="#0090ff"/><rect x="1" y="11" width="1.02" height="1.02" fill="#0090ff"/><rect x="2" y="11" width="1.02" height="1.02" fill="#00ffef"/><rect x="3" y="11" width="1.02" height="1.02" fill="#00ffef"/><rect x="4" y="11" width="1.02" height="1.02" fill="#0090ff"/><rect x="5" y="11" width="1.02" height="1.02" fill="#0090ff"/><rect x="6" y="11" width="1.02" height="1.02" fill="#006fff"/><rect x="7" y="11" width="1.02" height="1.02" fill="#006fff"/><rect x="8" y="11" width="1.02" height="1.02" fill="#006fff"/><rect x="9" y="11" width="1.02" height="1.02" fill="#006fff"/><rect x="10" y="11" width="1.02" height="1.02" fill="#006fff"/><rect x="11" y="11" width="1.02" height="1.02" fill="#006fff"/></g><g filter="url(#bs)"><ellipse cx="4.520" cy="5.408" rx="0.350" ry="0.362" fill="#3c00ff"/><ellipse cx="2.330" cy="6.794" rx="0.400" ry="0.310" fill="#3c00ff"/><ellipse cx="9.550" cy="1.189" rx="0.450" ry="1.034" fill="#00ff00"/><ellipse cx="0.550" cy="5.377" rx="0.650" ry="1.241" fill="#00ff00"/><ellipse cx="2.230" cy="2.834" rx="0.500" ry="0.517" fill="#00ffb0"/><ellipse cx="4.330" cy="7.963" rx="0.550" ry="0.569" fill="#00ffb0"/><ellipse cx="2.600" cy="9.400" rx="0.850" ry="0.414" fill="#00ffef"/><ellipse cx="3.510" cy="2.296" rx="0.300" ry="0.827" fill="#3c00ff"/></g></svg><svg x="390" y="201" width="100" height="96.7" viewBox="390 201 100 96.7"><g fill="none" stroke="#000" stroke-width="1.35" stroke-dasharray="6 2.6"><ellipse cx="484.7" cy="212.1" rx="5.5" ry="11.2"/><ellipse cx="412.3" cy="228.4" rx="6.3" ry="6.1"/><ellipse cx="396.7" cy="253.1" rx="8.5" ry="13.7"/><ellipse cx="433.3" cy="278" rx="6.7" ry="7"/><ellipse cx="416" cy="291.9" rx="10" ry="5.5" transform="rotate(-25 416 291.9)"/></g></svg><svg x="54.5" y="328.3" width="99.7" height="97.5" viewBox="0 0 10 10" preserveAspectRatio="none"><g filter="url(#bl)" shape-rendering="crispEdges"><rect x="-2" y="-2" width="1.02" height="1.02" fill="#00ff00"/><rect x="-1" y="-2" width="1.02" height="1.02" fill="#00ff00"/><rect x="0" y="-2" width="1.02" height="1.02" fill="#00ff00"/><rect x="1" y="-2" width="1.02" height="1.02" fill="#bbff00"/><rect x="2" y="-2" width="1.02" height="1.02" fill="#bbff00"/><rect x="3" y="-2" width="1.02" height="1.02" fill="#ffd500"/><rect x="4" y="-2" width="1.02" height="1.02" fill="#ffae00"/><rect x="5" y="-2" width="1.02" height="1.02" fill="#ffd500"/><rect x="6" y="-2" width="1.02" height="1.02" fill="#3cff00"/><rect x="7" y="-2" width="1.02" height="1.02" fill="#ffae00"/><rect x="8" y="-2" width="1.02" height="1.02" fill="#00ff00"/><rect x="9" y="-2" width="1.02" height="1.02" fill="#0090ff"/><rect x="10" y="-2" width="1.02" height="1.02" fill="#0090ff"/><rect x="11" y="-2" width="1.02" height="1.02" fill="#0090ff"/><rect x="-2" y="-1" width="1.02" height="1.02" fill="#00ff00"/><rect x="-1" y="-1" width="1.02" height="1.02" fill="#00ff00"/><rect x="0" y="-1" width="1.02" height="1.02" fill="#00ff00"/><rect x="1" y="-1" width="1.02" height="1.02" fill="#bbff00"/><rect x="2" y="-1" width="1.02" height="1.02" fill="#bbff00"/><rect x="3" y="-1" width="1.02" height="1.02" fill="#ffd500"/><rect x="4" y="-1" width="1.02" height="1.02" fill="#ffae00"/><rect x="5" y="-1" width="1.02" height="1.02" fill="#ffd500"/><rect x="6" y="-1" width="1.02" height="1.02" fill="#3cff00"/><rect x="7" y="-1" width="1.02" height="1.02" fill="#ffae00"/><rect x="8" y="-1" width="1.02" height="1.02" fill="#00ff00"/><rect x="9" y="-1" width="1.02" height="1.02" fill="#0090ff"/><rect x="10" y="-1" width="1.02" height="1.02" fill="#0090ff"/><rect x="11" y="-1" width="1.02" height="1.02" fill="#0090ff"/><rect x="-2" y="0" width="1.02" height="1.02" fill="#00ff00"/><rect x="-1" y="0" width="1.02" height="1.02" fill="#00ff00"/><rect x="0" y="0" width="1.02" height="1.02" fill="#00ff00"/><rect x="1" y="0" width="1.02" height="1.02" fill="#bbff00"/><rect x="2" y="0" width="1.02" height="1.02" fill="#bbff00"/><rect x="3" y="0" width="1.02" height="1.02" fill="#ffd500"/><rect x="4" y="0" width="1.02" height="1.02" fill="#ffae00"/><rect x="5" y="0" width="1.02" height="1.02" fill="#ffd500"/><rect x="6" y="0" width="1.02" height="1.02" fill="#3cff00"/><rect x="7" y="0" width="1.02" height="1.02" fill="#ffae00"/><rect x="8" y="0" width="1.02" height="1.02" fill="#00ff00"/><rect x="9" y="0" width="1.02" height="1.02" fill="#0090ff"/><rect x="10" y="0" width="1.02" height="1.02" fill="#0090ff"/><rect x="11" y="0" width="1.02" height="1.02" fill="#0090ff"/><rect x="-2" y="1" width="1.02" height="1.02" fill="#0090ff"/><rect x="-1" y="1" width="1.02" height="1.02" fill="#0090ff"/><rect x="0" y="1" width="1.02" height="1.02" fill="#0090ff"/><rect x="1" y="1" width="1.02" height="1.02" fill="#00ff72"/><rect x="2" y="1" width="1.02" height="1.02" fill="#00ff00"/><rect x="3" y="1" width="1.02" height="1.02" fill="#3cff00"/><rect x="4" y="1" width="1.02" height="1.02" fill="#3cff00"/><rect x="5" y="1" width="1.02" height="1.02" fill="#3cff00"/><rect x="6" y="1" width="1.02" height="1.02" fill="#78ff00"/><rect x="7" y="1" width="1.02" height="1.02" fill="#ffae00"/><rect x="8" y="1" width="1.02" height="1.02" fill="#ffae00"/><rect x="9" y="1" width="1.02" height="1.02" fill="#ffae00"/><rect x="10" y="1" width="1.02" height="1.02" fill="#ffae00"/><rect x="11" y="1" width="1.02" height="1.02" fill="#ffae00"/><rect x="-2" y="2" width="1.02" height="1.02" fill="#004dff"/><rect x="-1" y="2" width="1.02" height="1.02" fill="#004dff"/><rect x="0" y="2" width="1.02" height="1.02" fill="#004dff"/><rect x="1" y="2" width="1.02" height="1.02" fill="#00cfff"/><rect x="2" y="2" width="1.02" height="1.02" fill="#ffd500"/><rect x="3" y="2" width="1.02" height="1.02" fill="#3cff00"/><rect x="4" y="2" width="1.02" height="1.02" fill="#ffae00"/><rect x="5" y="2" width="1.02" height="1.02" fill="#ffff00"/><rect x="6" y="2" width="1.02" height="1.02" fill="#00ff00"/><rect x="7" y="2" width="1.02" height="1.02" fill="#00ff00"/><rect x="8" y="2" width="1.02" height="1.02" fill="#78ff00"/><rect x="9" y="2" width="1.02" height="1.02" fill="#3cff00"/><rect x="10" y="2" width="1.02" height="1.02" fill="#3cff00"/><rect x="11" y="2" width="1.02" height="1.02" fill="#3cff00"/><rect x="-2" y="3" width="1.02" height="1.02" fill="#3c00ff"/><rect x="-1" y="3" width="1.02" height="1.02" fill="#3c00ff"/><rect x="0" y="3" width="1.02" height="1.02" fill="#3c00ff"/><rect x="1" y="3" width="1.02" height="1.02" fill="#004dff"/><rect x="2" y="3" width="1.02" height="1.02" fill="#00ff72"/><rect x="3" y="3" width="1.02" height="1.02" fill="#bbff00"/><rect x="4" y="3" width="1.02" height="1.02" fill="#bbff00"/><rect x="5" y="3" width="1.02" height="1.02" fill="#3cff00"/><rect x="6" y="3" width="1.02" height="1.02" fill="#00ff00"/><rect x="7" y="3" width="1.02" height="1.02" fill="#ff8900"/><rect x="8" y="3" width="1.02" height="1.02" fill="#ff6500"/><rect x="9" y="3" width="1.02" height="1.02" fill="#3cff00"/><rect x="10" y="3" width="1.02" height="1.02" fill="#3cff00"/><rect x="11" y="3" width="1.02" height="1.02" fill="#3cff00"/><rect x="-2" y="4" width="1.02" height="1.02" fill="#c900ff"/><rect x="-1" y="4" width="1.02" height="1.02" fill="#c900ff"/><rect x="0" y="4" width="1.02" height="1.02" fill="#c900ff"/><rect x="1" y="4" width="1.02" height="1.02" fill="#002bff"/><rect x="2" y="4" width="1.02" height="1.02" fill="#00ffef"/><rect x="3" y="4" width="1.02" height="1.02" fill="#ffd500"/><rect x="4" y="4" width="1.02" height="1.02" fill="#00ff00"/><rect x="5" y="4" width="1.02" height="1.02" fill="#00ff00"/><rect x="6" y="4" width="1.02" height="1.02" fill="#00ff00"/><rect x="7" y="4" width="1.02" height="1.02" fill="#ffae00"/><rect x="8" y="4" width="1.02" height="1.02" fill="#ff8900"/><rect x="9" y="4" width="1.02" height="1.02" fill="#3cff00"/><rect x="10" y="4" width="1.02" height="1.02" fill="#3cff00"/><rect x="11" y="4" width="1.02" height="1.02" fill="#3cff00"/><rect x="-2" y="5" width="1.02" height="1.02" fill="#002bff"/><rect x="-1" y="5" width="1.02" height="1.02" fill="#002bff"/><rect x="0" y="5" width="1.02" height="1.02" fill="#002bff"/><rect x="1" y="5" width="1.02" height="1.02" fill="#00cfff"/><rect x="2" y="5" width="1.02" height="1.02" fill="#78ff00"/><rect x="3" y="5" width="1.02" height="1.02" fill="#bbff00"/><rect x="4" y="5" width="1.02" height="1.02" fill="#00ffef"/><rect x="5" y="5" width="1.02" height="1.02" fill="#00ffef"/><rect x="6" y="5" width="1.02" height="1.02" fill="#00ff39"/><rect x="7" y="5" width="1.02" height="1.02" fill="#78ff00"/><rect x="8" y="5" width="1.02" height="1.02" fill="#3cff00"/><rect x="9" y="5" width="1.02" height="1.02" fill="#ff8900"/><rect x="10" y="5" width="1.02" height="1.02" fill="#ff8900"/><rect x="11" y="5" width="1.02" height="1.02" fill="#ff8900"/><rect x="-2" y="6" width="1.02" height="1.02" fill="#002bff"/><rect x="-1" y="6" width="1.02" height="1.02" fill="#002bff"/><rect x="0" y="6" width="1.02" height="1.02" fill="#002bff"/><rect x="1" y="6" width="1.02" height="1.02" fill="#00ffb0"/><rect x="2" y="6" width="1.02" height="1.02" fill="#00ff00"/><rect x="3" y="6" width="1.02" height="1.02" fill="#3cff00"/><rect x="4" y="6" width="1.02" height="1.02" fill="#00ff00"/><rect x="5" y="6" width="1.02" height="1.02" fill="#ffd500"/><rect x="6" y="6" width="1.02" height="1.02" fill="#00ff00"/><rect x="7" y="6" width="1.02" height="1.02" fill="#00ff00"/><rect x="8" y="6" width="1.02" height="1.02" fill="#78ff00"/><rect x="9" y="6" width="1.02" height="1.02" fill="#ff8900"/><rect x="10" y="6" width="1.02" height="1.02" fill="#ff8900"/><rect x="11" y="6" width="1.02" height="1.02" fill="#ff8900"/><rect x="-2" y="7" width="1.02" height="1.02" fill="#ffd500"/><rect x="-1" y="7" width="1.02" height="1.02" fill="#ffd500"/><rect x="0" y="7" width="1.02" height="1.02" fill="#ffd500"/><rect x="1" y="7" width="1.02" height="1.02" fill="#00ff72"/><rect x="2" y="7" width="1.02" height="1.02" fill="#00ffef"/><rect x="3" y="7" width="1.02" height="1.02" fill="#00ff00"/><rect x="4" y="7" width="1.02" height="1.02" fill="#ff8900"/><rect x="5" y="7" width="1.02" height="1.02" fill="#00ff00"/><rect x="6" y="7" width="1.02" height="1.02" fill="#00ffb0"/><rect x="7" y="7" width="1.02" height="1.02" fill="#00ff00"/><rect x="8" y="7" width="1.02" height="1.02" fill="#78ff00"/><rect x="9" y="7" width="1.02" height="1.02" fill="#bbff00"/><rect x="10" y="7" width="1.02" height="1.02" fill="#bbff00"/><rect x="11" y="7" width="1.02" height="1.02" fill="#bbff00"/><rect x="-2" y="8" width="1.02" height="1.02" fill="#004dff"/><rect x="-1" y="8" width="1.02" height="1.02" fill="#004dff"/><rect x="0" y="8" width="1.02" height="1.02" fill="#004dff"/><rect x="1" y="8" width="1.02" height="1.02" fill="#0090ff"/><rect x="2" y="8" width="1.02" height="1.02" fill="#0090ff"/><rect x="3" y="8" width="1.02" height="1.02" fill="#00ff39"/><rect x="4" y="8" width="1.02" height="1.02" fill="#00ff00"/><rect x="5" y="8" width="1.02" height="1.02" fill="#00ff39"/><rect x="6" y="8" width="1.02" height="1.02" fill="#00ff39"/><rect x="7" y="8" width="1.02" height="1.02" fill="#00ff39"/><rect x="8" y="8" width="1.02" height="1.02" fill="#ff8900"/><rect x="9" y="8" width="1.02" height="1.02" fill="#00ff00"/><rect x="10" y="8" width="1.02" height="1.02" fill="#00ff00"/><rect x="11" y="8" width="1.02" height="1.02" fill="#00ff00"/><rect x="-2" y="9" width="1.02" height="1.02" fill="#002bff"/><rect x="-1" y="9" width="1.02" height="1.02" fill="#002bff"/><rect x="0" y="9" width="1.02" height="1.02" fill="#002bff"/><rect x="1" y="9" width="1.02" height="1.02" fill="#004dff"/><rect x="2" y="9" width="1.02" height="1.02" fill="#0090ff"/><rect x="3" y="9" width="1.02" height="1.02" fill="#00ff39"/><rect x="4" y="9" width="1.02" height="1.02" fill="#3cff00"/><rect x="5" y="9" width="1.02" height="1.02" fill="#00ff00"/><rect x="6" y="9" width="1.02" height="1.02" fill="#00ff39"/><rect x="7" y="9" width="1.02" height="1.02" fill="#00ff39"/><rect x="8" y="9" width="1.02" height="1.02" fill="#ff6500"/><rect x="9" y="9" width="1.02" height="1.02" fill="#00ff00"/><rect x="10" y="9" width="1.02" height="1.02" fill="#00ff00"/><rect x="11" y="9" width="1.02" height="1.02" fill="#00ff00"/><rect x="-2" y="10" width="1.02" height="1.02" fill="#002bff"/><rect x="-1" y="10" width="1.02" height="1.02" fill="#002bff"/><rect x="0" y="10" width="1.02" height="1.02" fill="#002bff"/><rect x="1" y="10" width="1.02" height="1.02" fill="#004dff"/><rect x="2" y="10" width="1.02" height="1.02" fill="#0090ff"/><rect x="3" y="10" width="1.02" height="1.02" fill="#00ff39"/><rect x="4" y="10" width="1.02" height="1.02" fill="#3cff00"/><rect x="5" y="10" width="1.02" height="1.02" fill="#00ff00"/><rect x="6" y="10" width="1.02" height="1.02" fill="#00ff39"/><rect x="7" y="10" width="1.02" height="1.02" fill="#00ff39"/><rect x="8" y="10" width="1.02" height="1.02" fill="#ff6500"/><rect x="9" y="10" width="1.02" height="1.02" fill="#00ff00"/><rect x="10" y="10" width="1.02" height="1.02" fill="#00ff00"/><rect x="11" y="10" width="1.02" height="1.02" fill="#00ff00"/><rect x="-2" y="11" width="1.02" height="1.02" fill="#002bff"/><rect x="-1" y="11" width="1.02" height="1.02" fill="#002bff"/><rect x="0" y="11" width="1.02" height="1.02" fill="#002bff"/><rect x="1" y="11" width="1.02" height="1.02" fill="#004dff"/><rect x="2" y="11" width="1.02" height="1.02" fill="#0090ff"/><rect x="3" y="11" width="1.02" height="1.02" fill="#00ff39"/><rect x="4" y="11" width="1.02" height="1.02" fill="#3cff00"/><rect x="5" y="11" width="1.02" height="1.02" fill="#00ff00"/><rect x="6" y="11" width="1.02" height="1.02" fill="#00ff39"/><rect x="7" y="11" width="1.02" height="1.02" fill="#00ff39"/><rect x="8" y="11" width="1.02" height="1.02" fill="#ff6500"/><rect x="9" y="11" width="1.02" height="1.02" fill="#00ff00"/><rect x="10" y="11" width="1.02" height="1.02" fill="#00ff00"/><rect x="11" y="11" width="1.02" height="1.02" fill="#00ff00"/></g><g filter="url(#bs)"><ellipse cx="0.401" cy="4.277" rx="0.652" ry="2.154" fill="#0009ff"/><rect x="-0.251" y="8.277" width="2.006" height="1.949" fill="#004dff"/><ellipse cx="0.502" cy="4.051" rx="0.502" ry="0.513" fill="#ff00ff"/><ellipse cx="4.223" cy="0.656" rx="0.953" ry="0.441" fill="#ffc000"/><ellipse cx="7.332" cy="1.190" rx="0.502" ry="1.026" fill="#ffc000"/><ellipse cx="8.867" cy="1.836" rx="0.953" ry="0.338" fill="#ffc000"/><ellipse cx="2.287" cy="2.841" rx="0.401" ry="0.390" fill="#ffd500"/><ellipse cx="4.684" cy="2.933" rx="0.582" ry="0.533" fill="#ffc000"/><ellipse cx="3.631" cy="4.185" rx="0.401" ry="0.256" fill="#ffd500"/><ellipse cx="7.773" cy="4.010" rx="1.003" ry="0.595" fill="#ff8900"/><ellipse cx="8.175" cy="4.123" rx="0.401" ry="0.359" fill="#ff4000"/><ellipse cx="9.509" cy="6.164" rx="0.401" ry="0.974" fill="#ff6500"/><ellipse cx="5.938" cy="6.585" rx="0.381" ry="0.338" fill="#ffd500"/><ellipse cx="0.481" cy="7.610" rx="0.602" ry="0.615" fill="#ffd500"/><ellipse cx="4.544" cy="7.713" rx="0.502" ry="0.513" fill="#ff8900"/><ellipse cx="8.425" cy="9.313" rx="0.481" ry="0.564" fill="#ff6500"/></g></svg><svg x="54.5" y="328.3" width="99.7" height="97.5" viewBox="54.5 328.3 99.7 97.5"><g fill="none" stroke="#000" stroke-width="1.35" stroke-dasharray="6 2.6"><ellipse cx="96.6" cy="334.7" rx="11.3" ry="5.9"/><ellipse cx="127.6" cy="339.9" rx="6.5" ry="11.5"/><ellipse cx="142.9" cy="346.2" rx="11.3" ry="4.6"/><ellipse cx="77.3" cy="356" rx="5.5" ry="5.1"/><ellipse cx="101.2" cy="356.9" rx="7.3" ry="6.6"/><ellipse cx="90.7" cy="369.1" rx="5.5" ry="3.7"/><ellipse cx="132" cy="367.4" rx="11.8" ry="7.3"/><ellipse cx="149.3" cy="388.4" rx="5.2" ry="11.2"/><ellipse cx="113.7" cy="392.5" rx="5.1" ry="4.6"/><ellipse cx="59.3" cy="402.5" rx="7.3" ry="7.3"/><ellipse cx="99.8" cy="403.5" rx="6.3" ry="6.3"/><ellipse cx="138.5" cy="419.1" rx="6.1" ry="6.8"/></g></svg><svg x="223" y="328.3" width="100.8" height="97.5" viewBox="0 0 10 10" preserveAspectRatio="none"><g filter="url(#bl)" shape-rendering="crispEdges"><rect x="-2" y="-2" width="1.02" height="1.02" fill="#ffd500"/><rect x="-1" y="-2" width="1.02" height="1.02" fill="#ffd500"/><rect x="0" y="-2" width="1.02" height="1.02" fill="#ffd500"/><rect x="1" y="-2" width="1.02" height="1.02" fill="#ffd500"/><rect x="2" y="-2" width="1.02" height="1.02" fill="#ffae00"/><rect x="3" y="-2" width="1.02" height="1.02" fill="#ff8900"/><rect x="4" y="-2" width="1.02" height="1.02" fill="#ff8900"/><rect x="5" y="-2" width="1.02" height="1.02" fill="#ffae00"/><rect x="6" y="-2" width="1.02" height="1.02" fill="#ffae00"/><rect x="7" y="-2" width="1.02" height="1.02" fill="#ff8900"/><rect x="8" y="-2" width="1.02" height="1.02" fill="#78ff00"/><rect x="9" y="-2" width="1.02" height="1.02" fill="#8000ff"/><rect x="10" y="-2" width="1.02" height="1.02" fill="#8000ff"/><rect x="11" y="-2" width="1.02" height="1.02" fill="#8000ff"/><rect x="-2" y="-1" width="1.02" height="1.02" fill="#ffd500"/><rect x="-1" y="-1" width="1.02" height="1.02" fill="#ffd500"/><rect x="0" y="-1" width="1.02" height="1.02" fill="#ffd500"/><rect x="1" y="-1" width="1.02" height="1.02" fill="#ffd500"/><rect x="2" y="-1" width="1.02" height="1.02" fill="#ffae00"/><rect x="3" y="-1" width="1.02" height="1.02" fill="#ff8900"/><rect x="4" y="-1" width="1.02" height="1.02" fill="#ff8900"/><rect x="5" y="-1" width="1.02" height="1.02" fill="#ffae00"/><rect x="6" y="-1" width="1.02" height="1.02" fill="#ffae00"/><rect x="7" y="-1" width="1.02" height="1.02" fill="#ff8900"/><rect x="8" y="-1" width="1.02" height="1.02" fill="#78ff00"/><rect x="9" y="-1" width="1.02" height="1.02" fill="#8000ff"/><rect x="10" y="-1" width="1.02" height="1.02" fill="#8000ff"/><rect x="11" y="-1" width="1.02" height="1.02" fill="#8000ff"/><rect x="-2" y="0" width="1.02" height="1.02" fill="#ffd500"/><rect x="-1" y="0" width="1.02" height="1.02" fill="#ffd500"/><rect x="0" y="0" width="1.02" height="1.02" fill="#ffd500"/><rect x="1" y="0" width="1.02" height="1.02" fill="#ffd500"/><rect x="2" y="0" width="1.02" height="1.02" fill="#ffae00"/><rect x="3" y="0" width="1.02" height="1.02" fill="#ff8900"/><rect x="4" y="0" width="1.02" height="1.02" fill="#ff8900"/><rect x="5" y="0" width="1.02" height="1.02" fill="#ffae00"/><rect x="6" y="0" width="1.02" height="1.02" fill="#ffae00"/><rect x="7" y="0" width="1.02" height="1.02" fill="#ff8900"/><rect x="8" y="0" width="1.02" height="1.02" fill="#78ff00"/><rect x="9" y="0" width="1.02" height="1.02" fill="#8000ff"/><rect x="10" y="0" width="1.02" height="1.02" fill="#8000ff"/><rect x="11" y="0" width="1.02" height="1.02" fill="#8000ff"/><rect x="-2" y="1" width="1.02" height="1.02" fill="#78ff00"/><rect x="-1" y="1" width="1.02" height="1.02" fill="#78ff00"/><rect x="0" y="1" width="1.02" height="1.02" fill="#78ff00"/><rect x="1" y="1" width="1.02" height="1.02" fill="#78ff00"/><rect x="2" y="1" width="1.02" height="1.02" fill="#bbff00"/><rect x="3" y="1" width="1.02" height="1.02" fill="#ffff00"/><rect x="4" y="1" width="1.02" height="1.02" fill="#ffd500"/><rect x="5" y="1" width="1.02" height="1.02" fill="#ffae00"/><rect x="6" y="1" width="1.02" height="1.02" fill="#ffd500"/><rect x="7" y="1" width="1.02" height="1.02" fill="#bbff00"/><rect x="8" y="1" width="1.02" height="1.02" fill="#ff8900"/><rect x="9" y="1" width="1.02" height="1.02" fill="#bbff00"/><rect x="10" y="1" width="1.02" height="1.02" fill="#bbff00"/><rect x="11" y="1" width="1.02" height="1.02" fill="#bbff00"/><rect x="-2" y="2" width="1.02" height="1.02" fill="#3cff00"/><rect x="-1" y="2" width="1.02" height="1.02" fill="#3cff00"/><rect x="0" y="2" width="1.02" height="1.02" fill="#3cff00"/><rect x="1" y="2" width="1.02" height="1.02" fill="#bbff00"/><rect x="2" y="2" width="1.02" height="1.02" fill="#ffff00"/><rect x="3" y="2" width="1.02" height="1.02" fill="#00ff00"/><rect x="4" y="2" width="1.02" height="1.02" fill="#bbff00"/><rect x="5" y="2" width="1.02" height="1.02" fill="#ffff00"/><rect x="6" y="2" width="1.02" height="1.02" fill="#bbff00"/><rect x="7" y="2" width="1.02" height="1.02" fill="#bbff00"/><rect x="8" y="2" width="1.02" height="1.02" fill="#ffff00"/><rect x="9" y="2" width="1.02" height="1.02" fill="#bbff00"/><rect x="10" y="2" width="1.02" height="1.02" fill="#bbff00"/><rect x="11" y="2" width="1.02" height="1.02" fill="#bbff00"/><rect x="-2" y="3" width="1.02" height="1.02" fill="#3cff00"/><rect x="-1" y="3" width="1.02" height="1.02" fill="#3cff00"/><rect x="0" y="3" width="1.02" height="1.02" fill="#3cff00"/><rect x="1" y="3" width="1.02" height="1.02" fill="#3cff00"/><rect x="2" y="3" width="1.02" height="1.02" fill="#78ff00"/><rect x="3" y="3" width="1.02" height="1.02" fill="#3cff00"/><rect x="4" y="3" width="1.02" height="1.02" fill="#78ff00"/><rect x="5" y="3" width="1.02" height="1.02" fill="#bbff00"/><rect x="6" y="3" width="1.02" height="1.02" fill="#bbff00"/><rect x="7" y="3" width="1.02" height="1.02" fill="#ffff00"/><rect x="8" y="3" width="1.02" height="1.02" fill="#ffae00"/><rect x="9" y="3" width="1.02" height="1.02" fill="#ffd500"/><rect x="10" y="3" width="1.02" height="1.02" fill="#ffd500"/><rect x="11" y="3" width="1.02" height="1.02" fill="#ffd500"/><rect x="-2" y="4" width="1.02" height="1.02" fill="#78ff00"/><rect x="-1" y="4" width="1.02" height="1.02" fill="#78ff00"/><rect x="0" y="4" width="1.02" height="1.02" fill="#78ff00"/><rect x="1" y="4" width="1.02" height="1.02" fill="#bbff00"/><rect x="2" y="4" width="1.02" height="1.02" fill="#ffff00"/><rect x="3" y="4" width="1.02" height="1.02" fill="#ffd500"/><rect x="4" y="4" width="1.02" height="1.02" fill="#ffff00"/><rect x="5" y="4" width="1.02" height="1.02" fill="#bbff00"/><rect x="6" y="4" width="1.02" height="1.02" fill="#78ff00"/><rect x="7" y="4" width="1.02" height="1.02" fill="#ffd500"/><rect x="8" y="4" width="1.02" height="1.02" fill="#ff8900"/><rect x="9" y="4" width="1.02" height="1.02" fill="#ffae00"/><rect x="10" y="4" width="1.02" height="1.02" fill="#ffae00"/><rect x="11" y="4" width="1.02" height="1.02" fill="#ffae00"/><rect x="-2" y="5" width="1.02" height="1.02" fill="#bbff00"/><rect x="-1" y="5" width="1.02" height="1.02" fill="#bbff00"/><rect x="0" y="5" width="1.02" height="1.02" fill="#bbff00"/><rect x="1" y="5" width="1.02" height="1.02" fill="#ffae00"/><rect x="2" y="5" width="1.02" height="1.02" fill="#ff8900"/><rect x="3" y="5" width="1.02" height="1.02" fill="#ff8900"/><rect x="4" y="5" width="1.02" height="1.02" fill="#ffae00"/><rect x="5" y="5" width="1.02" height="1.02" fill="#3cff00"/><rect x="6" y="5" width="1.02" height="1.02" fill="#3cff00"/><rect x="7" y="5" width="1.02" height="1.02" fill="#ffd500"/><rect x="8" y="5" width="1.02" height="1.02" fill="#ff8900"/><rect x="9" y="5" width="1.02" height="1.02" fill="#ff8900"/><rect x="10" y="5" width="1.02" height="1.02" fill="#ff8900"/><rect x="11" y="5" width="1.02" height="1.02" fill="#ff8900"/><rect x="-2" y="6" width="1.02" height="1.02" fill="#78ff00"/><rect x="-1" y="6" width="1.02" height="1.02" fill="#78ff00"/><rect x="0" y="6" width="1.02" height="1.02" fill="#78ff00"/><rect x="1" y="6" width="1.02" height="1.02" fill="#78ff00"/><rect x="2" y="6" width="1.02" height="1.02" fill="#78ff00"/><rect x="3" y="6" width="1.02" height="1.02" fill="#78ff00"/><rect x="4" y="6" width="1.02" height="1.02" fill="#78ff00"/><rect x="5" y="6" width="1.02" height="1.02" fill="#3cff00"/><rect x="6" y="6" width="1.02" height="1.02" fill="#78ff00"/><rect x="7" y="6" width="1.02" height="1.02" fill="#ffd500"/><rect x="8" y="6" width="1.02" height="1.02" fill="#ffd500"/><rect x="9" y="6" width="1.02" height="1.02" fill="#ffd500"/><rect x="10" y="6" width="1.02" height="1.02" fill="#ffd500"/><rect x="11" y="6" width="1.02" height="1.02" fill="#ffd500"/><rect x="-2" y="7" width="1.02" height="1.02" fill="#8000ff"/><rect x="-1" y="7" width="1.02" height="1.02" fill="#8000ff"/><rect x="0" y="7" width="1.02" height="1.02" fill="#8000ff"/><rect x="1" y="7" width="1.02" height="1.02" fill="#00ff72"/><rect x="2" y="7" width="1.02" height="1.02" fill="#ffff00"/><rect x="3" y="7" width="1.02" height="1.02" fill="#ffff00"/><rect x="4" y="7" width="1.02" height="1.02" fill="#ff4000"/><rect x="5" y="7" width="1.02" height="1.02" fill="#3cff00"/><rect x="6" y="7" width="1.02" height="1.02" fill="#ffff00"/><rect x="7" y="7" width="1.02" height="1.02" fill="#ffd500"/><rect x="8" y="7" width="1.02" height="1.02" fill="#ff8900"/><rect x="9" y="7" width="1.02" height="1.02" fill="#ffd500"/><rect x="10" y="7" width="1.02" height="1.02" fill="#ffd500"/><rect x="11" y="7" width="1.02" height="1.02" fill="#ffd500"/><rect x="-2" y="8" width="1.02" height="1.02" fill="#8000ff"/><rect x="-1" y="8" width="1.02" height="1.02" fill="#8000ff"/><rect x="0" y="8" width="1.02" height="1.02" fill="#8000ff"/><rect x="1" y="8" width="1.02" height="1.02" fill="#00ffb0"/><rect x="2" y="8" width="1.02" height="1.02" fill="#ffd500"/><rect x="3" y="8" width="1.02" height="1.02" fill="#ffae00"/><rect x="4" y="8" width="1.02" height="1.02" fill="#ffd500"/><rect x="5" y="8" width="1.02" height="1.02" fill="#00ff39"/><rect x="6" y="8" width="1.02" height="1.02" fill="#ffff00"/><rect x="7" y="8" width="1.02" height="1.02" fill="#ffd500"/><rect x="8" y="8" width="1.02" height="1.02" fill="#ffd500"/><rect x="9" y="8" width="1.02" height="1.02" fill="#ffd500"/><rect x="10" y="8" width="1.02" height="1.02" fill="#ffd500"/><rect x="11" y="8" width="1.02" height="1.02" fill="#ffd500"/><rect x="-2" y="9" width="1.02" height="1.02" fill="#8000ff"/><rect x="-1" y="9" width="1.02" height="1.02" fill="#8000ff"/><rect x="0" y="9" width="1.02" height="1.02" fill="#8000ff"/><rect x="1" y="9" width="1.02" height="1.02" fill="#00ffef"/><rect x="2" y="9" width="1.02" height="1.02" fill="#ffd500"/><rect x="3" y="9" width="1.02" height="1.02" fill="#ffae00"/><rect x="4" y="9" width="1.02" height="1.02" fill="#00ff00"/><rect x="5" y="9" width="1.02" height="1.02" fill="#00ff39"/><rect x="6" y="9" width="1.02" height="1.02" fill="#ffd500"/><rect x="7" y="9" width="1.02" height="1.02" fill="#ffd500"/><rect x="8" y="9" width="1.02" height="1.02" fill="#ffd500"/><rect x="9" y="9" width="1.02" height="1.02" fill="#ffd500"/><rect x="10" y="9" width="1.02" height="1.02" fill="#ffd500"/><rect x="11" y="9" width="1.02" height="1.02" fill="#ffd500"/><rect x="-2" y="10" width="1.02" height="1.02" fill="#8000ff"/><rect x="-1" y="10" width="1.02" height="1.02" fill="#8000ff"/><rect x="0" y="10" width="1.02" height="1.02" fill="#8000ff"/><rect x="1" y="10" width="1.02" height="1.02" fill="#00ffef"/><rect x="2" y="10" width="1.02" height="1.02" fill="#ffd500"/><rect x="3" y="10" width="1.02" height="1.02" fill="#ffae00"/><rect x="4" y="10" width="1.02" height="1.02" fill="#00ff00"/><rect x="5" y="10" width="1.02" height="1.02" fill="#00ff39"/><rect x="6" y="10" width="1.02" height="1.02" fill="#ffd500"/><rect x="7" y="10" width="1.02" height="1.02" fill="#ffd500"/><rect x="8" y="10" width="1.02" height="1.02" fill="#ffd500"/><rect x="9" y="10" width="1.02" height="1.02" fill="#ffd500"/><rect x="10" y="10" width="1.02" height="1.02" fill="#ffd500"/><rect x="11" y="10" width="1.02" height="1.02" fill="#ffd500"/><rect x="-2" y="11" width="1.02" height="1.02" fill="#8000ff"/><rect x="-1" y="11" width="1.02" height="1.02" fill="#8000ff"/><rect x="0" y="11" width="1.02" height="1.02" fill="#8000ff"/><rect x="1" y="11" width="1.02" height="1.02" fill="#00ffef"/><rect x="2" y="11" width="1.02" height="1.02" fill="#ffd500"/><rect x="3" y="11" width="1.02" height="1.02" fill="#ffae00"/><rect x="4" y="11" width="1.02" height="1.02" fill="#00ff00"/><rect x="5" y="11" width="1.02" height="1.02" fill="#00ff39"/><rect x="6" y="11" width="1.02" height="1.02" fill="#ffd500"/><rect x="7" y="11" width="1.02" height="1.02" fill="#ffd500"/><rect x="8" y="11" width="1.02" height="1.02" fill="#ffd500"/><rect x="9" y="11" width="1.02" height="1.02" fill="#ffd500"/><rect x="10" y="11" width="1.02" height="1.02" fill="#ffd500"/><rect x="11" y="11" width="1.02" height="1.02" fill="#ffd500"/></g><g filter="url(#bs)"><rect x="-0.298" y="6.841" width="1.815" height="3.385" fill="#00cfff"/><rect x="-0.298" y="6.841" width="1.518" height="3.385" fill="#8000ff"/><ellipse cx="4.494" cy="7.795" rx="0.744" ry="0.615" fill="#ff8900"/><ellipse cx="4.494" cy="7.795" rx="0.427" ry="0.390" fill="#f60000"/><rect x="4.117" y="8.687" width="1.121" height="1.538" fill="#00ff39"/><ellipse cx="9.871" cy="0.277" rx="0.347" ry="0.462" fill="#8000ff"/><ellipse cx="8.482" cy="1.733" rx="0.694" ry="0.513" fill="#ff8900"/><ellipse cx="2.163" cy="2.933" rx="0.595" ry="0.513" fill="#ffff00"/><ellipse cx="3.254" cy="5.313" rx="1.885" ry="0.431" fill="#ff8900"/><ellipse cx="8.363" cy="3.938" rx="0.546" ry="0.513" fill="#ffae00"/><ellipse cx="8.819" cy="5.313" rx="0.992" ry="0.646" fill="#ff8900"/><ellipse cx="8.234" cy="7.795" rx="0.595" ry="0.410" fill="#ff8900"/></g></svg><svg x="223" y="328.3" width="100.8" height="97.5" viewBox="223 328.3 100.8 97.5"><g fill="none" stroke="#000" stroke-width="1.35" stroke-dasharray="6 2.6"><ellipse cx="308.5" cy="345.2" rx="8.2" ry="6.1"/><ellipse cx="244.8" cy="356.9" rx="7.3" ry="6.1"/><ellipse cx="255.8" cy="380.1" rx="20.7" ry="5.4"/><ellipse cx="307.3" cy="366.7" rx="7" ry="6.1"/><ellipse cx="311.9" cy="380.1" rx="11.5" ry="7.8"/><ellipse cx="268.5" cy="404.5" rx="9.1" ry="7.3"/><path d="M222.9 333.8C225.3 334.1 233.0 334.9 237.5 335.7C242.0 336.5 245.2 338.0 249.7 338.6C254.2 339.2 259.6 338.7 264.3 339.1C269.0 339.5 275.2 339.9 277.8 341.1C280.4 342.3 279.0 345.4 280.2 346.4C281.4 347.4 283.5 348.7 285.1 347.2C286.7 345.7 287.8 339.4 290 337.4C292.2 335.4 296.5 336.4 298.5 335C300.5 333.6 301.5 329.9 302.1 328.9"/><path d="M323.4 365.5C321.9 364.7 317.6 362.0 314.3 360.6C311.0 359.2 306.8 356.9 303.4 356.9C299.9 356.9 297.1 358.6 293.6 360.6C290.1 362.6 283.2 366.5 282.6 369.1C282.0 371.7 288.6 374.4 290 376.4C291.4 378.4 291.8 379.3 291.2 381.3C290.6 383.3 286.3 386.0 286.3 388.6C286.3 391.2 290.6 394.4 291.2 397.2C291.8 400.0 291.0 403.1 290 405.7C289.0 408.3 286.9 411.0 285.1 413C283.3 415.0 279.6 415.7 279 417.9C278.4 420.1 281.0 424.6 281.4 426"/><path d="M240 426C240.1 423.6 240.0 415.9 240.4 411.8C240.8 407.7 240.5 403.6 242.4 401.6C244.3 399.7 249.2 400.1 252.1 400.1C254.9 400.1 257.7 399.7 259.5 401.6C261.3 403.6 262.5 407.7 263.1 411.8C263.7 415.9 263.1 423.6 263.1 426"/></g></svg><svg x="390" y="328.3" width="100" height="97.5" viewBox="0 0 10 10" preserveAspectRatio="none"><g filter="url(#bl)" shape-rendering="crispEdges"><rect x="-2" y="-2" width="1.02" height="1.02" fill="#004dff"/><rect x="-1" y="-2" width="1.02" height="1.02" fill="#004dff"/><rect x="0" y="-2" width="1.02" height="1.02" fill="#004dff"/><rect x="1" y="-2" width="1.02" height="1.02" fill="#004dff"/><rect x="2" y="-2" width="1.02" height="1.02" fill="#0090ff"/><rect x="3" y="-2" width="1.02" height="1.02" fill="#3c00ff"/><rect x="4" y="-2" width="1.02" height="1.02" fill="#002bff"/><rect x="5" y="-2" width="1.02" height="1.02" fill="#002bff"/><rect x="6" y="-2" width="1.02" height="1.02" fill="#0009ff"/><rect x="7" y="-2" width="1.02" height="1.02" fill="#0009ff"/><rect x="8" y="-2" width="1.02" height="1.02" fill="#5e00ff"/><rect x="9" y="-2" width="1.02" height="1.02" fill="#0090ff"/><rect x="10" y="-2" width="1.02" height="1.02" fill="#0090ff"/><rect x="11" y="-2" width="1.02" height="1.02" fill="#0090ff"/><rect x="-2" y="-1" width="1.02" height="1.02" fill="#004dff"/><rect x="-1" y="-1" width="1.02" height="1.02" fill="#004dff"/><rect x="0" y="-1" width="1.02" height="1.02" fill="#004dff"/><rect x="1" y="-1" width="1.02" height="1.02" fill="#004dff"/><rect x="2" y="-1" width="1.02" height="1.02" fill="#0090ff"/><rect x="3" y="-1" width="1.02" height="1.02" fill="#3c00ff"/><rect x="4" y="-1" width="1.02" height="1.02" fill="#002bff"/><rect x="5" y="-1" width="1.02" height="1.02" fill="#002bff"/><rect x="6" y="-1" width="1.02" height="1.02" fill="#0009ff"/><rect x="7" y="-1" width="1.02" height="1.02" fill="#0009ff"/><rect x="8" y="-1" width="1.02" height="1.02" fill="#5e00ff"/><rect x="9" y="-1" width="1.02" height="1.02" fill="#0090ff"/><rect x="10" y="-1" width="1.02" height="1.02" fill="#0090ff"/><rect x="11" y="-1" width="1.02" height="1.02" fill="#0090ff"/><rect x="-2" y="0" width="1.02" height="1.02" fill="#004dff"/><rect x="-1" y="0" width="1.02" height="1.02" fill="#004dff"/><rect x="0" y="0" width="1.02" height="1.02" fill="#004dff"/><rect x="1" y="0" width="1.02" height="1.02" fill="#004dff"/><rect x="2" y="0" width="1.02" height="1.02" fill="#0090ff"/><rect x="3" y="0" width="1.02" height="1.02" fill="#3c00ff"/><rect x="4" y="0" width="1.02" height="1.02" fill="#002bff"/><rect x="5" y="0" width="1.02" height="1.02" fill="#002bff"/><rect x="6" y="0" width="1.02" height="1.02" fill="#0009ff"/><rect x="7" y="0" width="1.02" height="1.02" fill="#0009ff"/><rect x="8" y="0" width="1.02" height="1.02" fill="#5e00ff"/><rect x="9" y="0" width="1.02" height="1.02" fill="#0090ff"/><rect x="10" y="0" width="1.02" height="1.02" fill="#0090ff"/><rect x="11" y="0" width="1.02" height="1.02" fill="#0090ff"/><rect x="-2" y="1" width="1.02" height="1.02" fill="#5e00ff"/><rect x="-1" y="1" width="1.02" height="1.02" fill="#5e00ff"/><rect x="0" y="1" width="1.02" height="1.02" fill="#5e00ff"/><rect x="1" y="1" width="1.02" height="1.02" fill="#0009ff"/><rect x="2" y="1" width="1.02" height="1.02" fill="#004dff"/><rect x="3" y="1" width="1.02" height="1.02" fill="#3c00ff"/><rect x="4" y="1" width="1.02" height="1.02" fill="#006fff"/><rect x="5" y="1" width="1.02" height="1.02" fill="#3c00ff"/><rect x="6" y="1" width="1.02" height="1.02" fill="#5e00ff"/><rect x="7" y="1" width="1.02" height="1.02" fill="#0009ff"/><rect x="8" y="1" width="1.02" height="1.02" fill="#3c00ff"/><rect x="9" y="1" width="1.02" height="1.02" fill="#0009ff"/><rect x="10" y="1" width="1.02" height="1.02" fill="#0009ff"/><rect x="11" y="1" width="1.02" height="1.02" fill="#0009ff"/><rect x="-2" y="2" width="1.02" height="1.02" fill="#3c00ff"/><rect x="-1" y="2" width="1.02" height="1.02" fill="#3c00ff"/><rect x="0" y="2" width="1.02" height="1.02" fill="#3c00ff"/><rect x="1" y="2" width="1.02" height="1.02" fill="#0009ff"/><rect x="2" y="2" width="1.02" height="1.02" fill="#002bff"/><rect x="3" y="2" width="1.02" height="1.02" fill="#5e00ff"/><rect x="4" y="2" width="1.02" height="1.02" fill="#006fff"/><rect x="5" y="2" width="1.02" height="1.02" fill="#0009ff"/><rect x="6" y="2" width="1.02" height="1.02" fill="#0009ff"/><rect x="7" y="2" width="1.02" height="1.02" fill="#3c00ff"/><rect x="8" y="2" width="1.02" height="1.02" fill="#004dff"/><rect x="9" y="2" width="1.02" height="1.02" fill="#0009ff"/><rect x="10" y="2" width="1.02" height="1.02" fill="#0009ff"/><rect x="11" y="2" width="1.02" height="1.02" fill="#0009ff"/><rect x="-2" y="3" width="1.02" height="1.02" fill="#0009ff"/><rect x="-1" y="3" width="1.02" height="1.02" fill="#0009ff"/><rect x="0" y="3" width="1.02" height="1.02" fill="#0009ff"/><rect x="1" y="3" width="1.02" height="1.02" fill="#0009ff"/><rect x="2" y="3" width="1.02" height="1.02" fill="#3c00ff"/><rect x="3" y="3" width="1.02" height="1.02" fill="#8000ff"/><rect x="4" y="3" width="1.02" height="1.02" fill="#3c00ff"/><rect x="5" y="3" width="1.02" height="1.02" fill="#3c00ff"/><rect x="6" y="3" width="1.02" height="1.02" fill="#0009ff"/><rect x="7" y="3" width="1.02" height="1.02" fill="#5e00ff"/><rect x="8" y="3" width="1.02" height="1.02" fill="#004dff"/><rect x="9" y="3" width="1.02" height="1.02" fill="#3c00ff"/><rect x="10" y="3" width="1.02" height="1.02" fill="#3c00ff"/><rect x="11" y="3" width="1.02" height="1.02" fill="#3c00ff"/><rect x="-2" y="4" width="1.02" height="1.02" fill="#002bff"/><rect x="-1" y="4" width="1.02" height="1.02" fill="#002bff"/><rect x="0" y="4" width="1.02" height="1.02" fill="#002bff"/><rect x="1" y="4" width="1.02" height="1.02" fill="#3c00ff"/><rect x="2" y="4" width="1.02" height="1.02" fill="#5e00ff"/><rect x="3" y="4" width="1.02" height="1.02" fill="#8000ff"/><rect x="4" y="4" width="1.02" height="1.02" fill="#3c00ff"/><rect x="5" y="4" width="1.02" height="1.02" fill="#0009ff"/><rect x="6" y="4" width="1.02" height="1.02" fill="#0009ff"/><rect x="7" y="4" width="1.02" height="1.02" fill="#5e00ff"/><rect x="8" y="4" width="1.02" height="1.02" fill="#002bff"/><rect x="9" y="4" width="1.02" height="1.02" fill="#5e00ff"/><rect x="10" y="4" width="1.02" height="1.02" fill="#5e00ff"/><rect x="11" y="4" width="1.02" height="1.02" fill="#5e00ff"/><rect x="-2" y="5" width="1.02" height="1.02" fill="#006fff"/><rect x="-1" y="5" width="1.02" height="1.02" fill="#006fff"/><rect x="0" y="5" width="1.02" height="1.02" fill="#006fff"/><rect x="1" y="5" width="1.02" height="1.02" fill="#006fff"/><rect x="2" y="5" width="1.02" height="1.02" fill="#002bff"/><rect x="3" y="5" width="1.02" height="1.02" fill="#3c00ff"/><rect x="4" y="5" width="1.02" height="1.02" fill="#0009ff"/><rect x="5" y="5" width="1.02" height="1.02" fill="#004dff"/><rect x="6" y="5" width="1.02" height="1.02" fill="#3c00ff"/><rect x="7" y="5" width="1.02" height="1.02" fill="#5e00ff"/><rect x="8" y="5" width="1.02" height="1.02" fill="#002bff"/><rect x="9" y="5" width="1.02" height="1.02" fill="#004dff"/><rect x="10" y="5" width="1.02" height="1.02" fill="#004dff"/><rect x="11" y="5" width="1.02" height="1.02" fill="#004dff"/><rect x="-2" y="6" width="1.02" height="1.02" fill="#002bff"/><rect x="-1" y="6" width="1.02" height="1.02" fill="#002bff"/><rect x="0" y="6" width="1.02" height="1.02" fill="#002bff"/><rect x="1" y="6" width="1.02" height="1.02" fill="#8000ff"/><rect x="2" y="6" width="1.02" height="1.02" fill="#5e00ff"/><rect x="3" y="6" width="1.02" height="1.02" fill="#0009ff"/><rect x="4" y="6" width="1.02" height="1.02" fill="#004dff"/><rect x="5" y="6" width="1.02" height="1.02" fill="#002bff"/><rect x="6" y="6" width="1.02" height="1.02" fill="#0009ff"/><rect x="7" y="6" width="1.02" height="1.02" fill="#002bff"/><rect x="8" y="6" width="1.02" height="1.02" fill="#004dff"/><rect x="9" y="6" width="1.02" height="1.02" fill="#006fff"/><rect x="10" y="6" width="1.02" height="1.02" fill="#006fff"/><rect x="11" y="6" width="1.02" height="1.02" fill="#006fff"/><rect x="-2" y="7" width="1.02" height="1.02" fill="#0009ff"/><rect x="-1" y="7" width="1.02" height="1.02" fill="#0009ff"/><rect x="0" y="7" width="1.02" height="1.02" fill="#0009ff"/><rect x="1" y="7" width="1.02" height="1.02" fill="#3c00ff"/><rect x="2" y="7" width="1.02" height="1.02" fill="#3c00ff"/><rect x="3" y="7" width="1.02" height="1.02" fill="#0009ff"/><rect x="4" y="7" width="1.02" height="1.02" fill="#006fff"/><rect x="5" y="7" width="1.02" height="1.02" fill="#002bff"/><rect x="6" y="7" width="1.02" height="1.02" fill="#004dff"/><rect x="7" y="7" width="1.02" height="1.02" fill="#002bff"/><rect x="8" y="7" width="1.02" height="1.02" fill="#0009ff"/><rect x="9" y="7" width="1.02" height="1.02" fill="#5e00ff"/><rect x="10" y="7" width="1.02" height="1.02" fill="#5e00ff"/><rect x="11" y="7" width="1.02" height="1.02" fill="#5e00ff"/><rect x="-2" y="8" width="1.02" height="1.02" fill="#002bff"/><rect x="-1" y="8" width="1.02" height="1.02" fill="#002bff"/><rect x="0" y="8" width="1.02" height="1.02" fill="#002bff"/><rect x="1" y="8" width="1.02" height="1.02" fill="#002bff"/><rect x="2" y="8" width="1.02" height="1.02" fill="#002bff"/><rect x="3" y="8" width="1.02" height="1.02" fill="#0009ff"/><rect x="4" y="8" width="1.02" height="1.02" fill="#0009ff"/><rect x="5" y="8" width="1.02" height="1.02" fill="#3c00ff"/><rect x="6" y="8" width="1.02" height="1.02" fill="#3c00ff"/><rect x="7" y="8" width="1.02" height="1.02" fill="#3c00ff"/><rect x="8" y="8" width="1.02" height="1.02" fill="#0009ff"/><rect x="9" y="8" width="1.02" height="1.02" fill="#0009ff"/><rect x="10" y="8" width="1.02" height="1.02" fill="#0009ff"/><rect x="11" y="8" width="1.02" height="1.02" fill="#0009ff"/><rect x="-2" y="9" width="1.02" height="1.02" fill="#006fff"/><rect x="-1" y="9" width="1.02" height="1.02" fill="#006fff"/><rect x="0" y="9" width="1.02" height="1.02" fill="#006fff"/><rect x="1" y="9" width="1.02" height="1.02" fill="#004dff"/><rect x="2" y="9" width="1.02" height="1.02" fill="#002bff"/><rect x="3" y="9" width="1.02" height="1.02" fill="#002bff"/><rect x="4" y="9" width="1.02" height="1.02" fill="#3c00ff"/><rect x="5" y="9" width="1.02" height="1.02" fill="#3c00ff"/><rect x="6" y="9" width="1.02" height="1.02" fill="#3c00ff"/><rect x="7" y="9" width="1.02" height="1.02" fill="#0009ff"/><rect x="8" y="9" width="1.02" height="1.02" fill="#0009ff"/><rect x="9" y="9" width="1.02" height="1.02" fill="#002bff"/><rect x="10" y="9" width="1.02" height="1.02" fill="#002bff"/><rect x="11" y="9" width="1.02" height="1.02" fill="#002bff"/><rect x="-2" y="10" width="1.02" height="1.02" fill="#006fff"/><rect x="-1" y="10" width="1.02" height="1.02" fill="#006fff"/><rect x="0" y="10" width="1.02" height="1.02" fill="#006fff"/><rect x="1" y="10" width="1.02" height="1.02" fill="#004dff"/><rect x="2" y="10" width="1.02" height="1.02" fill="#002bff"/><rect x="3" y="10" width="1.02" height="1.02" fill="#002bff"/><rect x="4" y="10" width="1.02" height="1.02" fill="#3c00ff"/><rect x="5" y="10" width="1.02" height="1.02" fill="#3c00ff"/><rect x="6" y="10" width="1.02" height="1.02" fill="#3c00ff"/><rect x="7" y="10" width="1.02" height="1.02" fill="#0009ff"/><rect x="8" y="10" width="1.02" height="1.02" fill="#0009ff"/><rect x="9" y="10" width="1.02" height="1.02" fill="#002bff"/><rect x="10" y="10" width="1.02" height="1.02" fill="#002bff"/><rect x="11" y="10" width="1.02" height="1.02" fill="#002bff"/><rect x="-2" y="11" width="1.02" height="1.02" fill="#006fff"/><rect x="-1" y="11" width="1.02" height="1.02" fill="#006fff"/><rect x="0" y="11" width="1.02" height="1.02" fill="#006fff"/><rect x="1" y="11" width="1.02" height="1.02" fill="#004dff"/><rect x="2" y="11" width="1.02" height="1.02" fill="#002bff"/><rect x="3" y="11" width="1.02" height="1.02" fill="#002bff"/><rect x="4" y="11" width="1.02" height="1.02" fill="#3c00ff"/><rect x="5" y="11" width="1.02" height="1.02" fill="#3c00ff"/><rect x="6" y="11" width="1.02" height="1.02" fill="#3c00ff"/><rect x="7" y="11" width="1.02" height="1.02" fill="#0009ff"/><rect x="8" y="11" width="1.02" height="1.02" fill="#0009ff"/><rect x="9" y="11" width="1.02" height="1.02" fill="#002bff"/><rect x="10" y="11" width="1.02" height="1.02" fill="#002bff"/><rect x="11" y="11" width="1.02" height="1.02" fill="#002bff"/></g><g filter="url(#bs)"><ellipse cx="3.300" cy="3.682" rx="0.700" ry="0.615" fill="#8000ff"/><ellipse cx="2.570" cy="4.933" rx="0.500" ry="0.410" fill="#5e00ff"/><ellipse cx="1.840" cy="6.810" rx="0.600" ry="0.513" fill="#8000ff"/><ellipse cx="5.990" cy="1.815" rx="0.400" ry="0.410" fill="#5e00ff"/><ellipse cx="8.470" cy="0.933" rx="0.300" ry="0.513" fill="#5e00ff"/><ellipse cx="7.080" cy="4.308" rx="0.350" ry="1.026" fill="#5e00ff"/><ellipse cx="2.330" cy="0.564" rx="0.500" ry="0.513" fill="#0090ff"/><ellipse cx="1.230" cy="5.559" rx="1.100" ry="0.718" fill="#006fff"/><ellipse cx="4.640" cy="2.062" rx="0.400" ry="0.923" fill="#006fff"/><ellipse cx="4.520" cy="7.692" rx="0.600" ry="0.513" fill="#0090ff"/><ellipse cx="0.860" cy="9.436" rx="0.900" ry="0.513" fill="#0090ff"/><ellipse cx="8.420" cy="3.436" rx="0.400" ry="0.923" fill="#006fff"/><ellipse cx="9.640" cy="0.431" rx="0.350" ry="0.462" fill="#0090ff"/><ellipse cx="9.520" cy="6.687" rx="0.400" ry="0.359" fill="#0090ff"/></g></svg><svg x="390" y="328.3" width="100" height="97.5" viewBox="390 328.3 100 97.5"><g fill="none" stroke="#000" stroke-width="1.35" stroke-dasharray="6 2.6"></g></svg><rect x="158.3" y="82.8" width="16.5" height="80.7" fill="#cdcdcd"/><rect x="160.9" y="84.3" width="10.2" height="78" fill="url(#cb)"/><rect x="160.9" y="86.2" width="10.2" height="0.9" fill="#300"/><rect x="160.9" y="159.2" width="10.2" height="0.8" fill="#602"/><rect x="171.5" y="86.3" width="2.2" height="0.9" fill="#333"/><rect x="171.5" y="122.39999999999999" width="2.2" height="0.9" fill="#333"/><rect x="171.5" y="159.2" width="2.2" height="0.9" fill="#333"/><text x="178.9" y="90.8" class="n">1027</text><text x="180.3" y="162.2" class="n">0</text><text x="36.0" y="84.6" class="l">A<tspan class="s" dy="3.2" dx="0.6">1</tspan></text><rect x="327.8" y="82.8" width="16.5" height="80.7" fill="#cdcdcd"/><rect x="330.40000000000003" y="84.3" width="10.2" height="78" fill="url(#cb)"/><rect x="330.40000000000003" y="86.2" width="10.2" height="0.9" fill="#300"/><rect x="330.40000000000003" y="159.2" width="10.2" height="0.8" fill="#602"/><rect x="341.0" y="86.3" width="2.2" height="0.9" fill="#333"/><rect x="341.0" y="122.39999999999999" width="2.2" height="0.9" fill="#333"/><rect x="341.0" y="159.2" width="2.2" height="0.9" fill="#333"/><text x="348.40000000000003" y="90.8" class="n">682</text><text x="349.8" y="162.2" class="n">0</text><text x="204.8" y="84.6" class="l">B<tspan class="s" dy="3.2" dx="0.6">1</tspan></text><rect x="493.7" y="82.8" width="16.5" height="80.7" fill="#cdcdcd"/><rect x="496.3" y="84.3" width="10.2" height="78" fill="url(#cb)"/><rect x="496.3" y="86.2" width="10.2" height="0.9" fill="#300"/><rect x="496.3" y="159.2" width="10.2" height="0.8" fill="#602"/><rect x="506.9" y="86.3" width="2.2" height="0.9" fill="#333"/><rect x="506.9" y="122.39999999999999" width="2.2" height="0.9" fill="#333"/><rect x="506.9" y="159.2" width="2.2" height="0.9" fill="#333"/><text x="514.3" y="90.8" class="n">662</text><text x="515.7" y="162.2" class="n">0</text><text x="371.2" y="84.6" class="l">C<tspan class="s" dy="3.2" dx="0.6">1</tspan></text><text transform="translate(22.5 174.0) rotate(-90) scale(0.97 1)" class="r">Region 1</text><rect x="158.3" y="209.3" width="16.5" height="80.7" fill="#cdcdcd"/><rect x="160.9" y="210.8" width="10.2" height="78" fill="url(#cb)"/><rect x="160.9" y="212.70000000000002" width="10.2" height="0.9" fill="#300"/><rect x="160.9" y="285.70000000000005" width="10.2" height="0.8" fill="#602"/><rect x="171.5" y="212.8" width="2.2" height="0.9" fill="#333"/><rect x="171.5" y="248.9" width="2.2" height="0.9" fill="#333"/><rect x="171.5" y="285.70000000000005" width="2.2" height="0.9" fill="#333"/><text x="178.9" y="217.3" class="n">516</text><text x="180.3" y="288.70000000000005" class="n">0</text><text x="36.0" y="211.6" class="l">A<tspan class="s" dy="3.2" dx="0.6">2</tspan></text><rect x="327.8" y="209.3" width="16.5" height="80.7" fill="#cdcdcd"/><rect x="330.40000000000003" y="210.8" width="10.2" height="78" fill="url(#cb)"/><rect x="330.40000000000003" y="212.70000000000002" width="10.2" height="0.9" fill="#300"/><rect x="330.40000000000003" y="285.70000000000005" width="10.2" height="0.8" fill="#602"/><rect x="341.0" y="212.8" width="2.2" height="0.9" fill="#333"/><rect x="341.0" y="248.9" width="2.2" height="0.9" fill="#333"/><rect x="341.0" y="285.70000000000005" width="2.2" height="0.9" fill="#333"/><text x="348.40000000000003" y="217.3" class="n">3191</text><text x="349.8" y="288.70000000000005" class="n">0</text><text x="204.8" y="211.6" class="l">B<tspan class="s" dy="3.2" dx="0.6">2</tspan></text><rect x="493.7" y="209.3" width="16.5" height="80.7" fill="#cdcdcd"/><rect x="496.3" y="210.8" width="10.2" height="78" fill="url(#cb)"/><rect x="496.3" y="212.70000000000002" width="10.2" height="0.9" fill="#300"/><rect x="496.3" y="285.70000000000005" width="10.2" height="0.8" fill="#602"/><rect x="506.9" y="212.8" width="2.2" height="0.9" fill="#333"/><rect x="506.9" y="248.9" width="2.2" height="0.9" fill="#333"/><rect x="506.9" y="285.70000000000005" width="2.2" height="0.9" fill="#333"/><text x="514.3" y="217.3" class="n">553</text><text x="515.7" y="288.70000000000005" class="n">0</text><text x="371.2" y="211.6" class="l">C<tspan class="s" dy="3.2" dx="0.6">2</tspan></text><text transform="translate(22.5 299.8) rotate(-90) scale(0.97 1)" class="r">Region 2</text><rect x="158.3" y="340.4" width="16.5" height="80.7" fill="#cdcdcd"/><rect x="160.9" y="341.9" width="10.2" height="78" fill="url(#cb)"/><rect x="160.9" y="343.79999999999995" width="10.2" height="0.9" fill="#300"/><rect x="160.9" y="416.79999999999995" width="10.2" height="0.8" fill="#602"/><rect x="171.5" y="343.9" width="2.2" height="0.9" fill="#333"/><rect x="171.5" y="380.0" width="2.2" height="0.9" fill="#333"/><rect x="171.5" y="416.8" width="2.2" height="0.9" fill="#333"/><text x="178.9" y="348.4" class="n">329</text><text x="180.3" y="419.79999999999995" class="n">0</text><text x="36.0" y="338.90000000000003" class="l">A<tspan class="s" dy="3.2" dx="0.6">3</tspan></text><rect x="327.8" y="340.4" width="16.5" height="80.7" fill="#cdcdcd"/><rect x="330.40000000000003" y="341.9" width="10.2" height="78" fill="url(#cb)"/><rect x="330.40000000000003" y="343.79999999999995" width="10.2" height="0.9" fill="#300"/><rect x="330.40000000000003" y="416.79999999999995" width="10.2" height="0.8" fill="#602"/><rect x="341.0" y="343.9" width="2.2" height="0.9" fill="#333"/><rect x="341.0" y="380.0" width="2.2" height="0.9" fill="#333"/><rect x="341.0" y="416.8" width="2.2" height="0.9" fill="#333"/><text x="348.40000000000003" y="348.4" class="n">2639</text><text x="349.8" y="419.79999999999995" class="n">0</text><text x="204.8" y="338.90000000000003" class="l">B<tspan class="s" dy="3.2" dx="0.6">3</tspan></text><rect x="493.7" y="340.4" width="16.5" height="80.7" fill="#cdcdcd"/><rect x="496.3" y="341.9" width="10.2" height="78" fill="url(#cb)"/><rect x="496.3" y="343.79999999999995" width="10.2" height="0.9" fill="#300"/><rect x="496.3" y="416.79999999999995" width="10.2" height="0.8" fill="#602"/><rect x="506.9" y="343.9" width="2.2" height="0.9" fill="#333"/><rect x="506.9" y="380.0" width="2.2" height="0.9" fill="#333"/><rect x="506.9" y="416.8" width="2.2" height="0.9" fill="#333"/><text x="514.3" y="348.4" class="n">845</text><text x="515.7" y="419.79999999999995" class="n">0</text><text x="371.2" y="338.90000000000003" class="l">C<tspan class="s" dy="3.2" dx="0.6">3</tspan></text><text transform="translate(22.5 428.6) rotate(-90) scale(0.97 1)" class="r">Region 3</text><text x="57" y="12.3" class="t">acetylsalicylic acid</text><text x="57.6" y="39.6" class="h">Raman intensity in the</text><text x="57.6" y="52.5" class="h">wavenumber range</text><text x="57.6" y="65.0" class="h">1171 - 1202 cm<tspan class="u" dy="-4.8" dx="1.6">-1</tspan></text><text x="227.3" y="11.8" class="t">acetaminophen</text><text x="228.2" y="39.1" class="h">Raman intensity in the</text><text x="228.2" y="52.0" class="h">wavenumber range</text><text x="228.2" y="64.5" class="h">835 - 873 cm<tspan class="u" dy="-4.8" dx="1.6">-1</tspan></text><text x="395.3" y="12.100000000000001" class="t">caffeine</text><text x="394.8" y="39.4" class="h">Raman intensity in the</text><text x="394.8" y="52.3" class="h">wavenumber range</text><text x="394.8" y="64.8" class="h">1670 - 1705 cm<tspan class="u" dy="-4.8" dx="1.6">-1</tspan></text>
</svg>
</body></html>
